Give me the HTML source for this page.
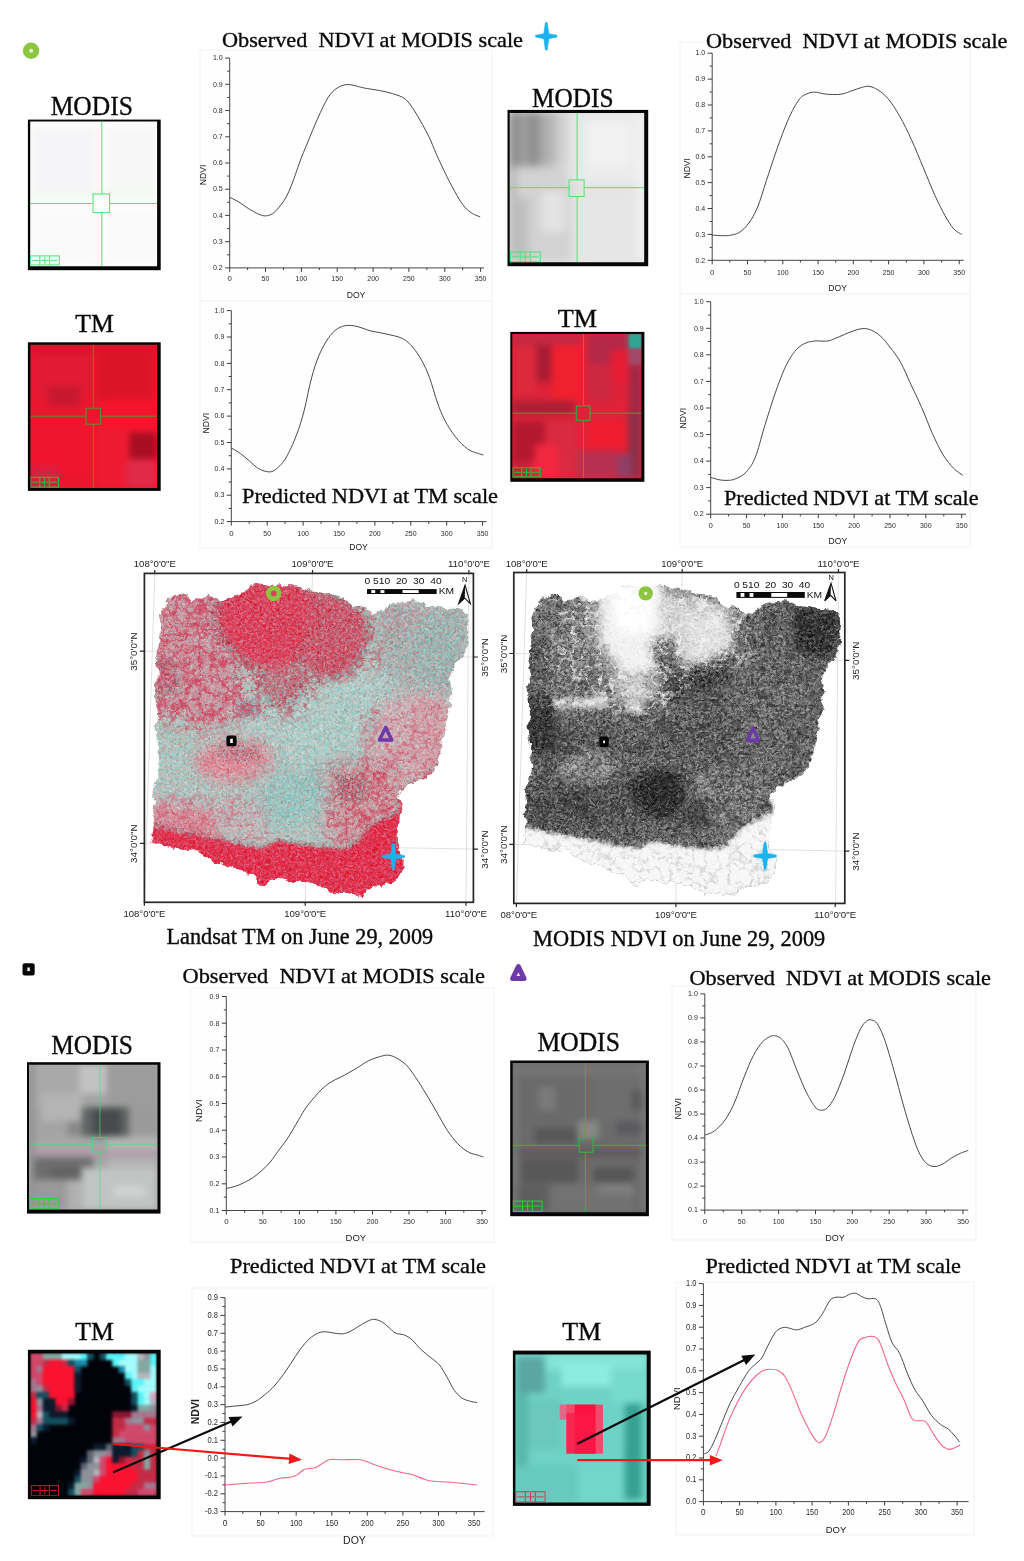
<!DOCTYPE html>
<html lang="en"><head><meta charset="utf-8"><title>NDVI time series at MODIS and TM scale</title>
<style>html,body{margin:0;padding:0;background:#fff}svg{display:block}</style></head><body>
<svg width="1024" height="1561" viewBox="0 0 1024 1561">
<defs><filter id="bl0_6" x="-10%" y="-10%" width="120%" height="120%" color-interpolation-filters="sRGB"><feGaussianBlur stdDeviation="0.6"/></filter>
<filter id="bl1_0" x="-10%" y="-10%" width="120%" height="120%" color-interpolation-filters="sRGB"><feGaussianBlur stdDeviation="1.0"/></filter>
<filter id="bl1_5" x="-10%" y="-10%" width="120%" height="120%" color-interpolation-filters="sRGB"><feGaussianBlur stdDeviation="1.5"/></filter>
<filter id="bl2_0" x="-10%" y="-10%" width="120%" height="120%" color-interpolation-filters="sRGB"><feGaussianBlur stdDeviation="2.0"/></filter>
<filter id="bl3_0" x="-10%" y="-10%" width="120%" height="120%" color-interpolation-filters="sRGB"><feGaussianBlur stdDeviation="3.0"/></filter>
<filter id="bl4_0" x="-10%" y="-10%" width="120%" height="120%" color-interpolation-filters="sRGB"><feGaussianBlur stdDeviation="4.0"/></filter>
<filter id="mtm" x="0" y="0" width="100%" height="100%" color-interpolation-filters="sRGB">
 <feTurbulence type="fractalNoise" baseFrequency="0.42" numOctaves="3" seed="7" result="n"/>
 <feColorMatrix in="n" type="matrix" values="1.5 0 0 0 -0.25  0 1.4 0 0 -0.2  0 1.4 0 0 -0.2  0 0 0 0 1" result="cn"/>
 <feBlend in="cn" in2="SourceGraphic" mode="soft-light" result="b"/>
 <feComposite in="b" in2="SourceGraphic" operator="in"/>
</filter>
<filter id="mmo" x="0" y="0" width="100%" height="100%" color-interpolation-filters="sRGB">
 <feTurbulence type="fractalNoise" baseFrequency="0.42" numOctaves="3" seed="11" result="n"/>
 <feColorMatrix in="n" type="matrix" values="1.6 0 0 0 -0.3  1.6 0 0 0 -0.3  1.6 0 0 0 -0.3  0 0 0 0 1" result="cn"/>
 <feBlend in="cn" in2="SourceGraphic" mode="soft-light" result="b"/>
 <feComposite in="b" in2="SourceGraphic" operator="in"/>
</filter>
<filter id="vein" x="0" y="0" width="100%" height="100%" color-interpolation-filters="sRGB">
 <feTurbulence type="turbulence" baseFrequency="0.075" numOctaves="4" seed="6" result="t"/>
 <feColorMatrix in="t" type="matrix" values="0 0 0 0 0  0 0 0 0 0  0 0 0 0 0  -5 0 0 0 1.28" result="m"/>
 <feComposite in="SourceGraphic" in2="m" operator="in"/>
</filter>
<filter id="vein2" x="0" y="0" width="100%" height="100%" color-interpolation-filters="sRGB">
 <feTurbulence type="turbulence" baseFrequency="0.085" numOctaves="4" seed="13" result="t"/>
 <feColorMatrix in="t" type="matrix" values="0 0 0 0 0  0 0 0 0 0  0 0 0 0 0  0 -5 0 0 1.25" result="m"/>
 <feComposite in="SourceGraphic" in2="m" operator="in"/>
</filter>
<filter id="edge" x="-5%" y="-5%" width="110%" height="110%">
 <feTurbulence type="fractalNoise" baseFrequency="0.16" numOctaves="3" seed="5" result="n"/>
 <feDisplacementMap in="SourceGraphic" in2="n" scale="6" xChannelSelector="R" yChannelSelector="G"/>
</filter>
<filter id="mb4" x="-20%" y="-20%" width="140%" height="140%" color-interpolation-filters="sRGB"><feGaussianBlur stdDeviation="4"/></filter>
<filter id="mb7" x="-30%" y="-30%" width="160%" height="160%" color-interpolation-filters="sRGB"><feGaussianBlur stdDeviation="7"/></filter>
<filter id="mb2" x="-20%" y="-20%" width="140%" height="140%" color-interpolation-filters="sRGB"><feGaussianBlur stdDeviation="2"/></filter>
<filter id="mb1" x="-50%" y="-50%" width="200%" height="200%" color-interpolation-filters="sRGB"><feGaussianBlur stdDeviation="0.8"/></filter>
</defs>
<rect width="1024" height="1561" fill="#fff"/>
<g id="charts"><rect x="200" y="50" width="292" height="498" fill="#fefefe" stroke="#f3f3f3" stroke-width="1"/>
<rect x="680" y="42" width="290" height="505" fill="#fefefe" stroke="#f3f3f3" stroke-width="1"/>
<rect x="191" y="988" width="303" height="254" fill="#fefefe" stroke="#f3f3f3" stroke-width="1"/>
<rect x="672" y="986" width="304" height="254" fill="#fefefe" stroke="#f3f3f3" stroke-width="1"/>
<rect x="192" y="1288" width="301" height="248" fill="#fefefe" stroke="#f3f3f3" stroke-width="1"/>
<rect x="676" y="1282" width="298" height="253" fill="#fefefe" stroke="#f3f3f3" stroke-width="1"/>
<path d="M200 301H492M680 294H970" stroke="#f0f0f0" stroke-width="1"/>
<path d="M229.7 58.1V267.9H484" fill="none" stroke="#3c3c3c" stroke-width="0.95"/>
<path d="M229.7 58.1h-4.5M229.7 71.2h-2.5M229.7 84.3h-4.5M229.7 97.4h-2.5M229.7 110.5h-4.5M229.7 123.7h-2.5M229.7 136.8h-4.5M229.7 149.9h-2.5M229.7 163h-4.5M229.7 176.1h-2.5M229.7 189.2h-4.5M229.7 202.3h-2.5M229.7 215.4h-4.5M229.7 228.6h-2.5M229.7 241.7h-4.5M229.7 254.8h-2.5M229.7 267.9h-4.5M229.7 267.9v4M247.6 267.9v2.2M265.5 267.9v4M283.5 267.9v2.2M301.4 267.9v4M319.3 267.9v2.2M337.2 267.9v4M355.1 267.9v2.2M373.1 267.9v4M391 267.9v2.2M408.9 267.9v4M426.8 267.9v2.2M444.8 267.9v4M462.7 267.9v2.2M480.6 267.9v4" fill="none" stroke="#3c3c3c" stroke-width="1"/>
<g font-family='"Liberation Sans", sans-serif' font-size="7.8" fill="#2c2c2c">
<g text-anchor="end">
<text x="222.7" y="60.3" textLength="9.8" lengthAdjust="spacingAndGlyphs">1.0</text>
<text x="222.7" y="86.5" textLength="9.8" lengthAdjust="spacingAndGlyphs">0.9</text>
<text x="222.7" y="112.8" textLength="9.8" lengthAdjust="spacingAndGlyphs">0.8</text>
<text x="222.7" y="139" textLength="9.8" lengthAdjust="spacingAndGlyphs">0.7</text>
<text x="222.7" y="165.2" textLength="9.8" lengthAdjust="spacingAndGlyphs">0.6</text>
<text x="222.7" y="191.4" textLength="9.8" lengthAdjust="spacingAndGlyphs">0.5</text>
<text x="222.7" y="217.7" textLength="9.8" lengthAdjust="spacingAndGlyphs">0.4</text>
<text x="222.7" y="243.9" textLength="9.8" lengthAdjust="spacingAndGlyphs">0.3</text>
<text x="222.7" y="270.1" textLength="9.8" lengthAdjust="spacingAndGlyphs">0.2</text>
</g><g text-anchor="middle">
<text x="229.7" y="280.7">0</text>
<text x="265.5" y="280.7" textLength="7.8" lengthAdjust="spacingAndGlyphs">50</text>
<text x="301.4" y="280.7" textLength="11.7" lengthAdjust="spacingAndGlyphs">100</text>
<text x="337.2" y="280.7" textLength="11.7" lengthAdjust="spacingAndGlyphs">150</text>
<text x="373.1" y="280.7" textLength="11.7" lengthAdjust="spacingAndGlyphs">200</text>
<text x="408.9" y="280.7" textLength="11.7" lengthAdjust="spacingAndGlyphs">250</text>
<text x="444.8" y="280.7" textLength="11.7" lengthAdjust="spacingAndGlyphs">300</text>
<text x="480.6" y="280.7" textLength="11.7" lengthAdjust="spacingAndGlyphs">350</text>
</g></g>
<text x="356" y="297.8" font-family='"Liberation Sans", sans-serif' font-size="8.6" fill="#222" text-anchor="middle">DOY</text>
<text transform="translate(205.6 175) rotate(-90)" font-family='"Liberation Sans", sans-serif' font-size="8.6" fill="#222" text-anchor="middle">NDVI</text>
<path d="M229.6 197.3C231 198 234.8 199.6 237.9 201.4C241 203.3 244.8 206.3 248.2 208.4C251.6 210.5 255.6 212.8 258.5 214.1C261.4 215.3 263.4 216 265.7 215.9C268.1 215.8 270.5 215 272.7 213.5C274.9 212.1 277 209.7 279.1 207.1C281.3 204.5 283.4 201.9 285.6 198.1C287.7 194.2 289.7 189.9 292 183.9C294.4 177.9 297.2 168.9 299.8 162C302.3 155.1 304.5 150 307.5 142.7C310.5 135.3 314.4 125.7 317.8 118.2C321.2 110.6 324.9 102.6 328.1 97.5C331.3 92.5 334.1 90.1 337.1 88C340.1 85.8 343.4 85.1 346.2 84.6C349 84.2 350.9 84.9 353.9 85.4C356.9 86 359.9 87.1 364.2 88C368.5 88.9 375 89.6 379.7 90.6C384.4 91.5 388.3 92.2 392.6 93.7C396.9 95.1 401.6 96.1 405.5 99.3C409.3 102.6 411.9 106.9 415.8 113C419.6 119.1 425.2 129.3 428.7 136.2C432.1 143.1 433.4 147.6 436.4 154.3C439.4 160.9 443.3 169.3 446.7 176.2C450.1 183 454 190.3 457 195.5C460 200.7 462.2 204.1 464.8 207.1C467.3 210.1 469.9 211.9 472.5 213.5C475.1 215.2 478.9 216.3 480.2 216.9" fill="none" stroke="#4a4a4a" stroke-width="1" stroke-linejoin="round"/>
<path d="M712.2 53.2V260.3H963.6" fill="none" stroke="#3c3c3c" stroke-width="0.95"/>
<path d="M712.2 53.2h-4.5M712.2 66.1h-2.5M712.2 79.1h-4.5M712.2 92h-2.5M712.2 105h-4.5M712.2 117.9h-2.5M712.2 130.9h-4.5M712.2 143.8h-2.5M712.2 156.8h-4.5M712.2 169.7h-2.5M712.2 182.6h-4.5M712.2 195.6h-2.5M712.2 208.5h-4.5M712.2 221.5h-2.5M712.2 234.4h-4.5M712.2 247.4h-2.5M712.2 260.3h-4.5M712.2 260.3v4M729.8 260.3v2.2M747.5 260.3v4M765.1 260.3v2.2M782.8 260.3v4M800.4 260.3v2.2M818.1 260.3v4M835.7 260.3v2.2M853.3 260.3v4M871 260.3v2.2M888.6 260.3v4M906.3 260.3v2.2M923.9 260.3v4M941.6 260.3v2.2M959.2 260.3v4" fill="none" stroke="#3c3c3c" stroke-width="1"/>
<g font-family='"Liberation Sans", sans-serif' font-size="7.8" fill="#2c2c2c">
<g text-anchor="end">
<text x="705.2" y="55.4" textLength="9.8" lengthAdjust="spacingAndGlyphs">1.0</text>
<text x="705.2" y="81.3" textLength="9.8" lengthAdjust="spacingAndGlyphs">0.9</text>
<text x="705.2" y="107.2" textLength="9.8" lengthAdjust="spacingAndGlyphs">0.8</text>
<text x="705.2" y="133.1" textLength="9.8" lengthAdjust="spacingAndGlyphs">0.7</text>
<text x="705.2" y="159" textLength="9.8" lengthAdjust="spacingAndGlyphs">0.6</text>
<text x="705.2" y="184.8" textLength="9.8" lengthAdjust="spacingAndGlyphs">0.5</text>
<text x="705.2" y="210.7" textLength="9.8" lengthAdjust="spacingAndGlyphs">0.4</text>
<text x="705.2" y="236.6" textLength="9.8" lengthAdjust="spacingAndGlyphs">0.3</text>
<text x="705.2" y="262.5" textLength="9.8" lengthAdjust="spacingAndGlyphs">0.2</text>
</g><g text-anchor="middle">
<text x="712.2" y="275">0</text>
<text x="747.5" y="275" textLength="7.8" lengthAdjust="spacingAndGlyphs">50</text>
<text x="782.8" y="275" textLength="11.7" lengthAdjust="spacingAndGlyphs">100</text>
<text x="818.1" y="275" textLength="11.7" lengthAdjust="spacingAndGlyphs">150</text>
<text x="853.3" y="275" textLength="11.7" lengthAdjust="spacingAndGlyphs">200</text>
<text x="888.6" y="275" textLength="11.7" lengthAdjust="spacingAndGlyphs">250</text>
<text x="923.9" y="275" textLength="11.7" lengthAdjust="spacingAndGlyphs">300</text>
<text x="959.2" y="275" textLength="11.7" lengthAdjust="spacingAndGlyphs">350</text>
</g></g>
<text x="837.6" y="290.7" font-family='"Liberation Sans", sans-serif' font-size="8.6" fill="#222" text-anchor="middle">DOY</text>
<text transform="translate(689.5 168.3) rotate(-90)" font-family='"Liberation Sans", sans-serif' font-size="8.6" fill="#222" text-anchor="middle">NDVI</text>
<path d="M712.2 235.1C714.2 235.2 720.5 235.8 723.9 235.7C727.4 235.7 730 235.5 732.7 234.8C735.4 234.2 737.4 233.8 740.1 231.9C742.7 229.9 745.9 227.3 748.8 223.1C751.8 219 754.7 214.1 757.6 207C760.6 199.9 763.3 190.1 766.4 180.6C769.6 171.1 773 160.1 776.7 149.9C780.3 139.6 784.7 127.4 788.4 119.1C792.1 110.8 795.7 104.2 798.7 100.1C801.6 95.9 803.3 95.5 806 94.2C808.7 92.9 811.3 92.1 814.8 92.1C818.2 92.1 822.1 93.9 826.5 94.2C830.9 94.5 836.7 94.8 841.1 94.2C845.5 93.6 849.4 91.5 852.9 90.4C856.3 89.3 859 88.1 861.6 87.5C864.3 86.8 866.3 85.9 869 86.3C871.7 86.7 874.6 87.8 877.8 89.8C880.9 91.9 884.3 94.2 888 98.6C891.7 103 895.8 109.3 899.7 116.2C903.6 123 907.5 131.1 911.4 139.6C915.4 148.2 919.3 158.2 923.2 167.4C927.1 176.7 931.2 187.2 934.9 195.3C938.5 203.3 942 210.2 945.1 215.8C948.3 221.4 951.1 225.8 953.9 229C956.7 232.1 960.5 233.6 961.8 234.5" fill="none" stroke="#4a4a4a" stroke-width="1" stroke-linejoin="round"/>
<path d="M231.3 310.6V521.6H486.5" fill="none" stroke="#3c3c3c" stroke-width="0.95"/>
<path d="M231.3 310.6h-4.5M231.3 323.8h-2.5M231.3 337h-4.5M231.3 350.2h-2.5M231.3 363.4h-4.5M231.3 376.5h-2.5M231.3 389.7h-4.5M231.3 402.9h-2.5M231.3 416.1h-4.5M231.3 429.3h-2.5M231.3 442.5h-4.5M231.3 455.7h-2.5M231.3 468.9h-4.5M231.3 482h-2.5M231.3 495.2h-4.5M231.3 508.4h-2.5M231.3 521.6h-4.5M231.3 521.6v4M249.2 521.6v2.2M267.2 521.6v4M285.1 521.6v2.2M303.1 521.6v4M321.1 521.6v2.2M339 521.6v4M356.9 521.6v2.2M374.9 521.6v4M392.8 521.6v2.2M410.8 521.6v4M428.8 521.6v2.2M446.7 521.6v4M464.6 521.6v2.2M482.6 521.6v4" fill="none" stroke="#3c3c3c" stroke-width="1"/>
<g font-family='"Liberation Sans", sans-serif' font-size="7.8" fill="#2c2c2c">
<g text-anchor="end">
<text x="224.3" y="312.8" textLength="9.8" lengthAdjust="spacingAndGlyphs">1.0</text>
<text x="224.3" y="339.2" textLength="9.8" lengthAdjust="spacingAndGlyphs">0.9</text>
<text x="224.3" y="365.6" textLength="9.8" lengthAdjust="spacingAndGlyphs">0.8</text>
<text x="224.3" y="391.9" textLength="9.8" lengthAdjust="spacingAndGlyphs">0.7</text>
<text x="224.3" y="418.3" textLength="9.8" lengthAdjust="spacingAndGlyphs">0.6</text>
<text x="224.3" y="444.7" textLength="9.8" lengthAdjust="spacingAndGlyphs">0.5</text>
<text x="224.3" y="471.1" textLength="9.8" lengthAdjust="spacingAndGlyphs">0.4</text>
<text x="224.3" y="497.4" textLength="9.8" lengthAdjust="spacingAndGlyphs">0.3</text>
<text x="224.3" y="523.8" textLength="9.8" lengthAdjust="spacingAndGlyphs">0.2</text>
</g><g text-anchor="middle">
<text x="231.3" y="535.5">0</text>
<text x="267.2" y="535.5" textLength="7.8" lengthAdjust="spacingAndGlyphs">50</text>
<text x="303.1" y="535.5" textLength="11.7" lengthAdjust="spacingAndGlyphs">100</text>
<text x="339" y="535.5" textLength="11.7" lengthAdjust="spacingAndGlyphs">150</text>
<text x="374.9" y="535.5" textLength="11.7" lengthAdjust="spacingAndGlyphs">200</text>
<text x="410.8" y="535.5" textLength="11.7" lengthAdjust="spacingAndGlyphs">250</text>
<text x="446.7" y="535.5" textLength="11.7" lengthAdjust="spacingAndGlyphs">300</text>
<text x="482.6" y="535.5" textLength="11.7" lengthAdjust="spacingAndGlyphs">350</text>
</g></g>
<text x="358.5" y="550.4" font-family='"Liberation Sans", sans-serif' font-size="8.6" fill="#222" text-anchor="middle">DOY</text>
<text transform="translate(208.7 423.2) rotate(-90)" font-family='"Liberation Sans", sans-serif' font-size="8.6" fill="#222" text-anchor="middle">NDVI</text>
<path d="M231.3 448C232.8 448.9 237.4 451.3 240.4 453.5C243.4 455.6 246.5 458.5 249.5 461C252.5 463.6 255.3 466.8 258.6 468.6C261.9 470.4 266.1 471.9 269.2 471.9C272.2 471.9 274 470.9 276.7 468.6C279.5 466.3 282.5 463.6 285.8 458C289.1 452.5 293.4 443.1 296.4 435.3C299.4 427.5 301.5 420.7 304 411.1C306.5 401.5 309 387.1 311.6 377.8C314.1 368.5 316.3 361.6 319.1 355.1C321.9 348.5 325.2 342.8 328.2 338.4C331.2 334 334 330.9 337.3 328.8C340.6 326.6 344.4 325.7 347.9 325.4C351.4 325.1 354.7 326 358.5 326.9C362.3 327.8 366 329.7 370.6 330.9C375.1 332 380.4 332.6 385.7 333.9C391 335.2 397.8 336.2 402.4 338.4C406.9 340.7 409.7 343.7 413 347.5C416.3 351.3 419.3 356.1 422.1 361.1C424.8 366.2 427.1 371 429.6 377.8C432.1 384.6 434.7 394.9 437.2 402C439.7 409.1 441.7 414.4 444.8 420.2C447.8 426 451.6 432 455.4 436.8C459.1 441.6 463.9 446.3 467.5 448.9C471 451.6 473.9 451.9 476.5 452.9C479.2 453.9 482.3 454.6 483.5 455" fill="none" stroke="#4a4a4a" stroke-width="1" stroke-linejoin="round"/>
<path d="M710.7 301.7V514.2H966" fill="none" stroke="#3c3c3c" stroke-width="0.95"/>
<path d="M710.7 301.7h-4.5M710.7 315h-2.5M710.7 328.3h-4.5M710.7 341.5h-2.5M710.7 354.8h-4.5M710.7 368.1h-2.5M710.7 381.4h-4.5M710.7 394.7h-2.5M710.7 408h-4.5M710.7 421.2h-2.5M710.7 434.5h-4.5M710.7 447.8h-2.5M710.7 461.1h-4.5M710.7 474.4h-2.5M710.7 487.6h-4.5M710.7 500.9h-2.5M710.7 514.2h-4.5M710.7 514.2v4M728.6 514.2v2.2M746.6 514.2v4M764.5 514.2v2.2M782.4 514.2v4M800.3 514.2v2.2M818.3 514.2v4M836.2 514.2v2.2M854.1 514.2v4M872.1 514.2v2.2M890 514.2v4M907.9 514.2v2.2M925.8 514.2v4M943.8 514.2v2.2M961.7 514.2v4" fill="none" stroke="#3c3c3c" stroke-width="1"/>
<g font-family='"Liberation Sans", sans-serif' font-size="7.8" fill="#2c2c2c">
<g text-anchor="end">
<text x="703.7" y="303.9" textLength="9.8" lengthAdjust="spacingAndGlyphs">1.0</text>
<text x="703.7" y="330.5" textLength="9.8" lengthAdjust="spacingAndGlyphs">0.9</text>
<text x="703.7" y="357" textLength="9.8" lengthAdjust="spacingAndGlyphs">0.8</text>
<text x="703.7" y="383.6" textLength="9.8" lengthAdjust="spacingAndGlyphs">0.7</text>
<text x="703.7" y="410.2" textLength="9.8" lengthAdjust="spacingAndGlyphs">0.6</text>
<text x="703.7" y="436.7" textLength="9.8" lengthAdjust="spacingAndGlyphs">0.5</text>
<text x="703.7" y="463.3" textLength="9.8" lengthAdjust="spacingAndGlyphs">0.4</text>
<text x="703.7" y="489.8" textLength="9.8" lengthAdjust="spacingAndGlyphs">0.3</text>
<text x="703.7" y="516.4" textLength="9.8" lengthAdjust="spacingAndGlyphs">0.2</text>
</g><g text-anchor="middle">
<text x="710.7" y="528.4">0</text>
<text x="746.6" y="528.4" textLength="7.8" lengthAdjust="spacingAndGlyphs">50</text>
<text x="782.4" y="528.4" textLength="11.7" lengthAdjust="spacingAndGlyphs">100</text>
<text x="818.3" y="528.4" textLength="11.7" lengthAdjust="spacingAndGlyphs">150</text>
<text x="854.1" y="528.4" textLength="11.7" lengthAdjust="spacingAndGlyphs">200</text>
<text x="890" y="528.4" textLength="11.7" lengthAdjust="spacingAndGlyphs">250</text>
<text x="925.8" y="528.4" textLength="11.7" lengthAdjust="spacingAndGlyphs">300</text>
<text x="961.7" y="528.4" textLength="11.7" lengthAdjust="spacingAndGlyphs">350</text>
</g></g>
<text x="837.9" y="543.9" font-family='"Liberation Sans", sans-serif' font-size="8.6" fill="#222" text-anchor="middle">DOY</text>
<text transform="translate(685.7 418.2) rotate(-90)" font-family='"Liberation Sans", sans-serif' font-size="8.6" fill="#222" text-anchor="middle">NDVI</text>
<path d="M710.7 477.5C712.3 477.9 717.3 479.5 720.4 480C723.5 480.4 726.7 480.6 729.5 480.3C732.3 480 734.3 479.5 737.1 478.1C739.8 476.8 743.1 475.5 746.1 472.1C749.2 468.7 752.2 465 755.2 457.6C758.3 450.1 761 437.9 764.3 427.3C767.6 416.7 771.4 404.1 774.9 394C778.4 383.9 782.2 373.8 785.5 366.7C788.8 359.7 791.6 355.4 794.6 351.6C797.6 347.8 800.4 345.8 803.7 344C806.9 342.3 810.2 341.5 814.3 341C818.3 340.5 823.8 341.7 827.9 341C831.9 340.4 834.7 338.6 838.5 337.1C842.3 335.6 846.6 333.3 850.6 331.9C854.6 330.5 859.2 328.8 862.7 328.6C866.2 328.3 868.8 329.1 871.8 330.4C874.8 331.7 877.8 333.7 880.9 336.5C883.9 339.2 886.7 342.8 889.9 347.1C893.2 351.3 897 355.9 900.5 362.2C904.1 368.5 907.6 377.3 911.1 384.9C914.7 392.5 918.2 399.5 921.7 407.6C925.3 415.7 928.8 425.5 932.3 433.3C935.9 441.2 939.4 448.7 942.9 454.5C946.5 460.3 950.2 464.7 953.5 468.2C956.8 471.6 961.1 474 962.6 475.1" fill="none" stroke="#4a4a4a" stroke-width="1" stroke-linejoin="round"/>
<path d="M226.3 996.5V1210.5H486" fill="none" stroke="#3c3c3c" stroke-width="0.95"/>
<path d="M226.3 996.5h-4.5M226.3 1009.9h-2.5M226.3 1023.2h-4.5M226.3 1036.6h-2.5M226.3 1050h-4.5M226.3 1063.4h-2.5M226.3 1076.8h-4.5M226.3 1090.1h-2.5M226.3 1103.5h-4.5M226.3 1116.9h-2.5M226.3 1130.2h-4.5M226.3 1143.6h-2.5M226.3 1157h-4.5M226.3 1170.4h-2.5M226.3 1183.8h-4.5M226.3 1197.1h-2.5M226.3 1210.5h-4.5M226.3 1210.5v4M244.6 1210.5v2.2M262.8 1210.5v4M281.1 1210.5v2.2M299.4 1210.5v4M317.7 1210.5v2.2M335.9 1210.5v4M354.2 1210.5v2.2M372.5 1210.5v4M390.7 1210.5v2.2M409 1210.5v4M427.3 1210.5v2.2M445.6 1210.5v4M463.8 1210.5v2.2M482.1 1210.5v4" fill="none" stroke="#3c3c3c" stroke-width="1"/>
<g font-family='"Liberation Sans", sans-serif' font-size="7.8" fill="#2c2c2c">
<g text-anchor="end">
<text x="219.3" y="998.7" textLength="9.8" lengthAdjust="spacingAndGlyphs">0.9</text>
<text x="219.3" y="1025.5" textLength="9.8" lengthAdjust="spacingAndGlyphs">0.8</text>
<text x="219.3" y="1052.2" textLength="9.8" lengthAdjust="spacingAndGlyphs">0.7</text>
<text x="219.3" y="1079" textLength="9.8" lengthAdjust="spacingAndGlyphs">0.6</text>
<text x="219.3" y="1105.7" textLength="9.8" lengthAdjust="spacingAndGlyphs">0.5</text>
<text x="219.3" y="1132.5" textLength="9.8" lengthAdjust="spacingAndGlyphs">0.4</text>
<text x="219.3" y="1159.2" textLength="9.8" lengthAdjust="spacingAndGlyphs">0.3</text>
<text x="219.3" y="1186" textLength="9.8" lengthAdjust="spacingAndGlyphs">0.2</text>
<text x="219.3" y="1212.7" textLength="9.8" lengthAdjust="spacingAndGlyphs">0.1</text>
</g><g text-anchor="middle">
<text x="226.3" y="1224.4">0</text>
<text x="262.8" y="1224.4" textLength="7.8" lengthAdjust="spacingAndGlyphs">50</text>
<text x="299.4" y="1224.4" textLength="11.7" lengthAdjust="spacingAndGlyphs">100</text>
<text x="335.9" y="1224.4" textLength="11.7" lengthAdjust="spacingAndGlyphs">150</text>
<text x="372.5" y="1224.4" textLength="11.7" lengthAdjust="spacingAndGlyphs">200</text>
<text x="409" y="1224.4" textLength="11.7" lengthAdjust="spacingAndGlyphs">250</text>
<text x="445.6" y="1224.4" textLength="11.7" lengthAdjust="spacingAndGlyphs">300</text>
<text x="482.1" y="1224.4" textLength="11.7" lengthAdjust="spacingAndGlyphs">350</text>
</g></g>
<text x="355.9" y="1241.2" font-family='"Liberation Sans", sans-serif' font-size="9.5" fill="#222" text-anchor="middle">DOY</text>
<text transform="translate(201.9 1110.6) rotate(-90)" font-family='"Liberation Sans", sans-serif' font-size="9.5" fill="#222" text-anchor="middle">NDVI</text>
<path d="M226.3 1188.4C227.8 1188.1 232.4 1187.3 235.4 1186.3C238.4 1185.3 241.5 1183.9 244.5 1182.4C247.5 1180.9 250.5 1179.4 253.6 1177.2C256.6 1175.1 259.9 1172.2 262.7 1169.7C265.4 1167.1 267.7 1165.1 270.2 1162.1C272.7 1159.1 275 1155.3 277.8 1151.5C280.6 1147.7 283.8 1143.9 286.9 1139.4C289.9 1134.9 292.9 1129.3 296 1124.3C299 1119.2 302 1113.6 305 1109.1C308.1 1104.7 311.1 1101.1 314.1 1097.6C317.1 1094.1 320.2 1090.7 323.2 1087.9C326.2 1085.2 328.8 1083.4 332.3 1081.3C335.8 1079.2 340.4 1077.4 344.4 1075.2C348.4 1073 352.5 1070.7 356.5 1068.3C360.5 1065.8 364.6 1062.7 368.6 1060.7C372.7 1058.7 377.4 1057.4 380.7 1056.4C384 1055.5 385.8 1055 388.3 1055.2C390.8 1055.4 392.8 1056 395.9 1057.7C398.9 1059.3 403.2 1061.9 406.5 1065.2C409.7 1068.5 412.3 1072.5 415.5 1077.3C418.8 1082.1 422.6 1088.2 426.1 1094C429.7 1099.8 433.2 1106.1 436.7 1112.1C440.3 1118.2 443.8 1125 447.3 1130.3C450.9 1135.6 454.4 1140.3 457.9 1143.9C461.5 1147.6 465.2 1150.2 468.5 1152.1C471.8 1154 475.1 1154.3 477.6 1155.1C480.1 1155.9 482.6 1156.7 483.7 1157" fill="none" stroke="#4a4a4a" stroke-width="1" stroke-linejoin="round"/>
<path d="M704.8 993.9V1210.1H968.2" fill="none" stroke="#3c3c3c" stroke-width="0.95"/>
<path d="M704.8 993.9h-4.5M704.8 1005.9h-2.5M704.8 1017.9h-4.5M704.8 1029.9h-2.5M704.8 1041.9h-4.5M704.8 1054h-2.5M704.8 1066h-4.5M704.8 1078h-2.5M704.8 1090h-4.5M704.8 1102h-2.5M704.8 1114h-4.5M704.8 1126h-2.5M704.8 1138h-4.5M704.8 1150h-2.5M704.8 1162.1h-4.5M704.8 1174.1h-2.5M704.8 1186.1h-4.5M704.8 1198.1h-2.5M704.8 1210.1h-4.5M704.8 1210.1v4M723.2 1210.1v2.2M741.7 1210.1v4M760.1 1210.1v2.2M778.6 1210.1v4M797 1210.1v2.2M815.5 1210.1v4M833.9 1210.1v2.2M852.3 1210.1v4M870.8 1210.1v2.2M889.2 1210.1v4M907.7 1210.1v2.2M926.1 1210.1v4M944.6 1210.1v2.2M963 1210.1v4" fill="none" stroke="#3c3c3c" stroke-width="1"/>
<g font-family='"Liberation Sans", sans-serif' font-size="7.8" fill="#2c2c2c">
<g text-anchor="end">
<text x="697.8" y="996.1" textLength="9.8" lengthAdjust="spacingAndGlyphs">1.0</text>
<text x="697.8" y="1020.1" textLength="9.8" lengthAdjust="spacingAndGlyphs">0.9</text>
<text x="697.8" y="1044.2" textLength="9.8" lengthAdjust="spacingAndGlyphs">0.8</text>
<text x="697.8" y="1068.2" textLength="9.8" lengthAdjust="spacingAndGlyphs">0.7</text>
<text x="697.8" y="1092.2" textLength="9.8" lengthAdjust="spacingAndGlyphs">0.6</text>
<text x="697.8" y="1116.2" textLength="9.8" lengthAdjust="spacingAndGlyphs">0.5</text>
<text x="697.8" y="1140.2" textLength="9.8" lengthAdjust="spacingAndGlyphs">0.4</text>
<text x="697.8" y="1164.3" textLength="9.8" lengthAdjust="spacingAndGlyphs">0.3</text>
<text x="697.8" y="1188.3" textLength="9.8" lengthAdjust="spacingAndGlyphs">0.2</text>
<text x="697.8" y="1212.3" textLength="9.8" lengthAdjust="spacingAndGlyphs">0.1</text>
</g><g text-anchor="middle">
<text x="704.8" y="1224">0</text>
<text x="741.7" y="1224" textLength="7.8" lengthAdjust="spacingAndGlyphs">50</text>
<text x="778.6" y="1224" textLength="11.7" lengthAdjust="spacingAndGlyphs">100</text>
<text x="815.5" y="1224" textLength="11.7" lengthAdjust="spacingAndGlyphs">150</text>
<text x="852.3" y="1224" textLength="11.7" lengthAdjust="spacingAndGlyphs">200</text>
<text x="889.2" y="1224" textLength="11.7" lengthAdjust="spacingAndGlyphs">250</text>
<text x="926.1" y="1224" textLength="11.7" lengthAdjust="spacingAndGlyphs">300</text>
<text x="963" y="1224" textLength="11.7" lengthAdjust="spacingAndGlyphs">350</text>
</g></g>
<text x="835" y="1241.2" font-family='"Liberation Sans", sans-serif' font-size="9" fill="#222" text-anchor="middle">DOY</text>
<text transform="translate(680.8 1108.7) rotate(-90)" font-family='"Liberation Sans", sans-serif' font-size="9" fill="#222" text-anchor="middle">NDVI</text>
<path d="M704.8 1135C706.1 1134.5 709.9 1133.8 712.4 1132.3C714.9 1130.8 717.4 1128.6 720 1125.9C722.5 1123.2 725 1120.4 727.5 1116.2C730 1112.1 732.3 1107.7 735.1 1101.1C737.9 1094.5 741.1 1084.4 744.2 1076.9C747.2 1069.3 750.2 1061.5 753.3 1055.7C756.3 1049.9 759.6 1045.2 762.3 1042.1C765.1 1038.9 767.9 1037.7 769.9 1036.6C771.9 1035.6 772.7 1035.5 774.4 1035.7C776.2 1036 778.2 1036.1 780.5 1038.1C782.8 1040.2 785.3 1042.7 788.1 1048.1C790.8 1053.6 794.1 1063.5 797.1 1070.8C800.2 1078.1 803.2 1086 806.2 1092C809.3 1098.1 812.8 1104.1 815.3 1107.1C817.8 1110.2 819.4 1110.1 821.4 1110.2C823.4 1110.3 825.2 1110 827.4 1107.8C829.7 1105.5 832.2 1102.2 835 1096.6C837.8 1090.9 841 1082.2 844.1 1073.8C847.1 1065.5 850.4 1054.2 853.2 1046.6C855.9 1039 858.5 1032.7 860.7 1028.4C863 1024.1 865 1022.3 866.8 1020.9C868.5 1019.5 869.6 1019.5 871.3 1020C873.1 1020.5 875.1 1020.5 877.4 1023.9C879.6 1027.3 882.2 1032.7 884.9 1040.5C887.7 1048.4 891 1060.2 894 1070.8C897.1 1081.4 900.1 1093.5 903.1 1104.1C906.1 1114.7 909.4 1126.1 912.2 1134.4C915 1142.7 917.2 1149.1 919.8 1154.1C922.3 1159 924.8 1162 927.3 1164.1C929.8 1166.1 932.4 1166.5 934.9 1166.5C937.4 1166.5 939.7 1165.5 942.5 1164.1C945.2 1162.7 948.5 1159.8 951.5 1158C954.6 1156.2 957.9 1154.4 960.6 1153.2C963.4 1151.9 966.9 1150.9 968.2 1150.4" fill="none" stroke="#4a4a4a" stroke-width="1" stroke-linejoin="round"/>
<path d="M225 1297.6V1511.6H484.7" fill="none" stroke="#3c3c3c" stroke-width="0.95"/>
<path d="M225 1297.6h-4.5M225 1306.5h-2.5M225 1315.4h-4.5M225 1324.3h-2.5M225 1333.3h-4.5M225 1342.2h-2.5M225 1351.1h-4.5M225 1360h-2.5M225 1368.9h-4.5M225 1377.8h-2.5M225 1386.8h-4.5M225 1395.7h-2.5M225 1404.6h-4.5M225 1413.5h-2.5M225 1422.4h-4.5M225 1431.3h-2.5M225 1440.3h-4.5M225 1449.2h-2.5M225 1458.1h-4.5M225 1467h-2.5M225 1475.9h-4.5M225 1484.8h-2.5M225 1493.8h-4.5M225 1502.7h-2.5M225 1511.6h-4.5M225 1511.6v4M242.8 1511.6v2.2M260.6 1511.6v4M278.4 1511.6v2.2M296.2 1511.6v4M314 1511.6v2.2M331.8 1511.6v4M349.6 1511.6v2.2M367.3 1511.6v4M385.1 1511.6v2.2M402.9 1511.6v4M420.7 1511.6v2.2M438.5 1511.6v4M456.3 1511.6v2.2M474.1 1511.6v4" fill="none" stroke="#3c3c3c" stroke-width="1"/>
<g font-family='"Liberation Sans", sans-serif' font-size="8.4" fill="#2c2c2c">
<g text-anchor="end">
<text x="218" y="1300" textLength="10.5" lengthAdjust="spacingAndGlyphs">0.9</text>
<text x="218" y="1317.9" textLength="10.5" lengthAdjust="spacingAndGlyphs">0.8</text>
<text x="218" y="1335.7" textLength="10.5" lengthAdjust="spacingAndGlyphs">0.7</text>
<text x="218" y="1353.5" textLength="10.5" lengthAdjust="spacingAndGlyphs">0.6</text>
<text x="218" y="1371.4" textLength="10.5" lengthAdjust="spacingAndGlyphs">0.5</text>
<text x="218" y="1389.2" textLength="10.5" lengthAdjust="spacingAndGlyphs">0.4</text>
<text x="218" y="1407" textLength="10.5" lengthAdjust="spacingAndGlyphs">0.3</text>
<text x="218" y="1424.9" textLength="10.5" lengthAdjust="spacingAndGlyphs">0.2</text>
<text x="218" y="1442.7" textLength="10.5" lengthAdjust="spacingAndGlyphs">0.1</text>
<text x="218" y="1460.5" textLength="10.5" lengthAdjust="spacingAndGlyphs">0.0</text>
<text x="218" y="1478.4" textLength="13" lengthAdjust="spacingAndGlyphs">-0.1</text>
<text x="218" y="1496.2" textLength="13" lengthAdjust="spacingAndGlyphs">-0.2</text>
<text x="218" y="1514" textLength="13" lengthAdjust="spacingAndGlyphs">-0.3</text>
</g><g text-anchor="middle">
<text x="225" y="1526">0</text>
<text x="260.6" y="1526" textLength="8.4" lengthAdjust="spacingAndGlyphs">50</text>
<text x="296.2" y="1526" textLength="12.6" lengthAdjust="spacingAndGlyphs">100</text>
<text x="331.8" y="1526" textLength="12.6" lengthAdjust="spacingAndGlyphs">150</text>
<text x="367.3" y="1526" textLength="12.6" lengthAdjust="spacingAndGlyphs">200</text>
<text x="402.9" y="1526" textLength="12.6" lengthAdjust="spacingAndGlyphs">250</text>
<text x="438.5" y="1526" textLength="12.6" lengthAdjust="spacingAndGlyphs">300</text>
<text x="474.1" y="1526" textLength="12.6" lengthAdjust="spacingAndGlyphs">350</text>
</g></g>
<text x="354.5" y="1543.5" font-family='"Liberation Sans", sans-serif' font-size="10.5" fill="#222" text-anchor="middle">DOY</text>
<text transform="translate(199.4 1411.7) rotate(-90)" font-family='"Liberation Sans", sans-serif' font-size="10.5" fill="#222" text-anchor="middle" font-weight="bold">NDVI</text>
<path d="M225 1407.1C226.9 1406.9 232.8 1406.3 236.5 1405.9C240.1 1405.5 243.8 1405.5 247.1 1404.7C250.3 1403.9 253.1 1402.8 256.1 1401.1C259.2 1399.4 262.2 1397 265.2 1394.4C268.3 1391.9 271.3 1389.3 274.3 1386C277.3 1382.6 280.6 1378.2 283.4 1374.5C286.2 1370.7 288.2 1367.4 291 1363.3C293.7 1359.1 297 1353.7 300 1349.6C303.1 1345.6 306.1 1341.8 309.1 1339C312.1 1336.3 315.4 1334.2 318.2 1333C321 1331.8 323.2 1331.8 325.8 1331.8C328.3 1331.8 330.6 1332.6 333.3 1333C336.1 1333.3 339.6 1334.1 342.4 1333.9C345.2 1333.6 347.2 1332.8 350 1331.5C352.8 1330.2 356 1327.8 359.1 1326C362.1 1324.3 365.6 1322 368.2 1320.9C370.7 1319.8 371.9 1319.2 374.2 1319.4C376.5 1319.5 379.3 1320.4 381.8 1321.8C384.3 1323.2 387.1 1326 389.3 1327.8C391.6 1329.7 392.9 1331.8 395.4 1333C397.9 1334.2 401.7 1333.9 404.5 1335.1C407.3 1336.3 409.3 1337.5 412.1 1339.9C414.8 1342.4 418.1 1346.8 421.1 1349.6C424.2 1352.5 427.2 1354.7 430.2 1357.2C433.2 1359.7 436.5 1361.5 439.3 1364.8C442.1 1368 444.3 1372.6 446.9 1376.9C449.4 1381.2 451.9 1387 454.4 1390.5C457 1394 459.5 1396.3 462 1398.1C464.5 1399.8 467 1400.3 469.6 1401.1C472.1 1401.9 475.9 1402.4 477.1 1402.6" fill="none" stroke="#4a4a4a" stroke-width="1" stroke-linejoin="round"/>
<path d="M225 1485C228.4 1484.7 238.8 1483.9 245.5 1483.4C252.3 1483 260.7 1482.7 265.2 1482.2C269.8 1481.7 270.3 1481.1 272.8 1480.4C275.3 1479.8 277.1 1478.9 280.4 1478.3C283.6 1477.7 289.4 1477.5 292.5 1476.8C295.5 1476 296.5 1475 298.5 1473.8C300.5 1472.5 301.8 1470.2 304.6 1469.2C307.4 1468.2 312.1 1468.7 315.2 1467.7C318.2 1466.7 320.2 1464.5 322.7 1463.2C325.3 1461.8 327 1460.1 330.3 1459.5C333.6 1459 337.6 1459.8 342.4 1459.8C347.2 1459.8 355 1459.2 359.1 1459.5C363.1 1459.8 363.4 1460.5 366.6 1461.6C369.9 1462.8 374.2 1464.7 378.8 1466.2C383.3 1467.7 388.3 1469.3 393.9 1470.7C399.4 1472.1 407 1473.2 412.1 1474.7C417.1 1476.1 420.6 1478.1 424.2 1479.2C427.7 1480.3 428.7 1480.8 433.2 1481.3C437.8 1481.8 444.1 1481.6 451.4 1482.2C458.7 1482.8 472.9 1484.5 477.1 1485" fill="none" stroke="#f2688a" stroke-width="1.1" stroke-linejoin="round"/>
<path d="M703.4 1283.6V1501.6H968.6" fill="none" stroke="#3c3c3c" stroke-width="0.95"/>
<path d="M703.4 1283.6h-4.5M703.4 1294.5h-2.5M703.4 1305.4h-4.5M703.4 1316.3h-2.5M703.4 1327.2h-4.5M703.4 1338.1h-2.5M703.4 1349h-4.5M703.4 1359.9h-2.5M703.4 1370.8h-4.5M703.4 1381.7h-2.5M703.4 1392.6h-4.5M703.4 1403.5h-2.5M703.4 1414.4h-4.5M703.4 1425.3h-2.5M703.4 1436.2h-4.5M703.4 1447.1h-2.5M703.4 1458h-4.5M703.4 1468.9h-2.5M703.4 1479.8h-4.5M703.4 1490.7h-2.5M703.4 1501.6h-4.5M703.4 1501.6v4M721.5 1501.6v2.2M739.6 1501.6v4M757.8 1501.6v2.2M775.9 1501.6v4M794 1501.6v2.2M812.1 1501.6v4M830.2 1501.6v2.2M848.4 1501.6v4M866.5 1501.6v2.2M884.6 1501.6v4M902.7 1501.6v2.2M920.9 1501.6v4M939 1501.6v2.2M957.1 1501.6v4" fill="none" stroke="#3c3c3c" stroke-width="1"/>
<g font-family='"Liberation Sans", sans-serif' font-size="8.2" fill="#2c2c2c">
<g text-anchor="end">
<text x="696.4" y="1286" textLength="10.3" lengthAdjust="spacingAndGlyphs">1.0</text>
<text x="696.4" y="1307.8" textLength="10.3" lengthAdjust="spacingAndGlyphs">0.9</text>
<text x="696.4" y="1329.6" textLength="10.3" lengthAdjust="spacingAndGlyphs">0.8</text>
<text x="696.4" y="1351.4" textLength="10.3" lengthAdjust="spacingAndGlyphs">0.7</text>
<text x="696.4" y="1373.2" textLength="10.3" lengthAdjust="spacingAndGlyphs">0.6</text>
<text x="696.4" y="1395" textLength="10.3" lengthAdjust="spacingAndGlyphs">0.5</text>
<text x="696.4" y="1416.8" textLength="10.3" lengthAdjust="spacingAndGlyphs">0.4</text>
<text x="696.4" y="1438.6" textLength="10.3" lengthAdjust="spacingAndGlyphs">0.3</text>
<text x="696.4" y="1460.4" textLength="10.3" lengthAdjust="spacingAndGlyphs">0.2</text>
<text x="696.4" y="1482.2" textLength="10.3" lengthAdjust="spacingAndGlyphs">0.1</text>
<text x="696.4" y="1504" textLength="10.3" lengthAdjust="spacingAndGlyphs">0.0</text>
</g><g text-anchor="middle">
<text x="703.4" y="1515.2">0</text>
<text x="739.6" y="1515.2" textLength="8.2" lengthAdjust="spacingAndGlyphs">50</text>
<text x="775.9" y="1515.2" textLength="12.3" lengthAdjust="spacingAndGlyphs">100</text>
<text x="812.1" y="1515.2" textLength="12.3" lengthAdjust="spacingAndGlyphs">150</text>
<text x="848.4" y="1515.2" textLength="12.3" lengthAdjust="spacingAndGlyphs">200</text>
<text x="884.6" y="1515.2" textLength="12.3" lengthAdjust="spacingAndGlyphs">250</text>
<text x="920.9" y="1515.2" textLength="12.3" lengthAdjust="spacingAndGlyphs">300</text>
<text x="957.1" y="1515.2" textLength="12.3" lengthAdjust="spacingAndGlyphs">350</text>
</g></g>
<text x="836" y="1532.8" font-family='"Liberation Sans", sans-serif' font-size="9.5" fill="#222" text-anchor="middle">DOY</text>
<text transform="translate(679.6 1398.7) rotate(-90)" font-family='"Liberation Sans", sans-serif' font-size="9.5" fill="#222" text-anchor="middle">NDVI</text>
<path d="M703.4 1454.1C704.4 1453.6 707 1453.5 708.9 1451C710.8 1448.6 712.7 1444.5 715 1439.5C717.2 1434.6 720 1427.4 722.5 1421.4C725 1415.3 727.3 1409 730.1 1403.2C732.9 1397.4 736.1 1391.9 739.2 1386.6C742.2 1381.3 745.5 1375.2 748.3 1371.4C751 1367.6 753.6 1366.1 755.8 1363.8C758.1 1361.6 759.9 1360.8 761.9 1357.8C763.9 1354.8 765.7 1350 767.9 1345.7C770.2 1341.4 773 1335.1 775.5 1332.1C778 1329 780.8 1328.2 783.1 1327.5C785.3 1326.9 786.9 1327.7 789.1 1328.1C791.4 1328.5 793.9 1330.1 796.7 1329.9C799.5 1329.7 802.7 1328.1 805.8 1326.9C808.8 1325.8 812.1 1325.1 814.9 1323C817.6 1320.8 819.9 1317.7 822.4 1313.9C824.9 1310.1 827.7 1303 830 1300.3C832.3 1297.5 833.8 1297.8 836 1297.2C838.3 1296.7 841.3 1297.8 843.6 1297.2C845.9 1296.7 847.7 1294.9 849.7 1294.2C851.7 1293.6 853.7 1292.9 855.7 1293.3C857.7 1293.7 859.8 1295.7 861.8 1296.6C863.8 1297.5 865.6 1298.4 867.8 1298.8C870.1 1299.1 873.4 1297.8 875.4 1298.8C877.4 1299.8 878.2 1300.5 879.9 1304.8C881.7 1309.1 884 1318.2 886 1324.5C888 1330.8 889.8 1337.9 892.1 1342.7C894.3 1347.5 897.1 1348.2 899.6 1353.3C902.1 1358.3 904.7 1366.9 907.2 1372.9C909.7 1379 912.2 1385 914.8 1389.6C917.3 1394.1 919.6 1395.9 922.3 1400.2C925.1 1404.5 928.4 1411.3 931.4 1415.3C934.4 1419.4 937.7 1422.1 940.5 1424.4C943.3 1426.7 945.8 1427.2 948.1 1428.9C950.3 1430.7 952.2 1432.8 954.1 1435C956 1437.2 958.7 1440.8 959.6 1442" fill="none" stroke="#4a4a4a" stroke-width="1" stroke-linejoin="round"/>
<path d="M715.9 1456.2C716.7 1453.9 718.9 1448.4 721 1442.6C723.1 1436.8 725.8 1428.2 728.6 1421.4C731.3 1414.6 734.6 1407.5 737.7 1401.7C740.7 1395.9 743.7 1390.8 746.7 1386.6C749.8 1382.3 753 1378.6 755.8 1376C758.6 1373.3 760.9 1371.6 763.4 1370.5C765.9 1369.4 768.4 1369.2 771 1369.3C773.5 1369.3 776.3 1369.7 778.5 1370.8C780.8 1371.9 782.3 1372.6 784.6 1376C786.9 1379.3 789.4 1384.8 792.1 1391.1C794.9 1397.4 798.2 1407 801.2 1413.8C804.3 1420.6 807.8 1427.4 810.3 1432C812.8 1436.5 814.8 1439.3 816.4 1441C818 1442.8 818.5 1443.3 820 1442.6C821.5 1441.8 823.3 1441 825.5 1436.5C827.6 1432 830.2 1423.9 833 1415.3C835.8 1406.7 839.1 1394.6 842.1 1385C845.1 1375.5 848.4 1365.1 851.2 1357.8C854 1350.5 856.5 1344.5 858.8 1341.1C861 1337.8 862.3 1338.3 864.8 1337.5C867.3 1336.8 871.4 1335.7 873.9 1336.6C876.4 1337.5 877.7 1338.1 879.9 1342.7C882.2 1347.2 885 1357.3 887.5 1363.8C890 1370.4 892.3 1376 895.1 1382C897.9 1388.1 901.4 1394.1 904.2 1400.2C906.9 1406.2 909.5 1414.9 911.7 1418.3C914 1421.8 915.5 1420.3 917.8 1420.8C920.1 1421.3 923.1 1419.8 925.4 1421.4C927.6 1423 928.9 1426.7 931.4 1430.5C933.9 1434.2 937.7 1440.9 940.5 1444.1C943.3 1447.2 945.8 1448.6 948.1 1449.2C950.3 1449.9 952.1 1448.7 954.1 1448C956.1 1447.3 959.2 1445.5 960.2 1445" fill="none" stroke="#f2688a" stroke-width="1.1" stroke-linejoin="round"/></g>
<g id="thumbs"><rect x="27.9" y="119.6" width="132.8" height="150.6" fill="#060606"/>
<clipPath id="tc1"><rect x="30.2" y="121.6" width="126.9" height="144.6"/></clipPath>
<g clip-path="url(#tc1)">
<g filter="url(#bl3_0)">
<rect x="18.2" y="109.6" width="150.9" height="168.6" fill="#fcfcfc"/>
<g transform="translate(10 30) scale(0.16602)">
<rect x="135" y="590" width="385" height="370" fill="#f5f5f7"/>
<rect x="590" y="590" width="280" height="370" fill="#f6f7f6"/>
<rect x="135" y="1100" width="385" height="280" fill="#fafafa"/>
<rect x="600" y="1100" width="270" height="280" fill="#f8f9f8"/>
<rect x="120" y="960" width="770" height="50" fill="#f3f8f1"/>
</g></g>

<g stroke="#4be474" stroke-width="1" fill="none" opacity="1">
<path d="M101.8 121.6V194M101.8 212.6V266.2M30.2 203.5H93M109.6 203.5H157.1"/>
<rect x="93" y="194" width="16.6" height="18.6"/>
</g>
<g stroke="#4be474" stroke-width="1" fill="none">
<rect x="30.5" y="255.9" width="28.8" height="9"/>
<path d="M39.8 255.4V265.4M49.7 255.4V265.4M32 260.4H38.9M40.7 260.4H48.8M44.9 256.9V263.9M50.9 260.4H57.8"/>
</g>
</g>
<rect x="507.5" y="109.9" width="140.7" height="156.3" fill="#060606"/>
<clipPath id="tc2"><rect x="509.7" y="112.9" width="134.5" height="149.3"/></clipPath>
<g clip-path="url(#tc2)">
<g filter="url(#bl4_0)">
<rect x="497.7" y="100.9" width="158.5" height="173.3" fill="#e4e4e4"/>
<g transform="translate(495 15) scale(0.16656)">
<rect x="80" y="900" width="55" height="580" fill="#b6b6b6"/>
<rect x="80" y="580" width="200" height="330" fill="#8e8e8e"/>
<rect x="150" y="600" width="50" height="300" fill="#a2a2a2"/>
<rect x="270" y="580" width="90" height="330" fill="#b0b0b0"/>
<rect x="360" y="580" width="110" height="320" fill="#cfcfcf"/>
<rect x="150" y="910" width="310" height="570" fill="#d2d2d2"/>
<rect x="90" y="1100" width="110" height="380" fill="#bebebe"/>
<rect x="280" y="1060" width="140" height="240" fill="#e4e4e4"/>
<rect x="520" y="600" width="370" height="400" fill="#ececec"/>
<rect x="540" y="1080" width="350" height="400" fill="#e6e6e6"/>
<rect x="560" y="650" width="240" height="250" fill="#f2f2f2"/>
<rect x="440" y="600" width="40" height="400" fill="#e8e8e8"/>
<rect x="860" y="600" width="40" height="880" fill="#f4f4f4"/>
</g></g>

<g stroke="#4be474" stroke-width="1" fill="none" opacity="1">
<path d="M577.1 112.9V179.9M577.1 196.5V262.2M509.7 187.7H569.1M584.1 187.7H644.2"/>
<rect x="569.1" y="179.9" width="15" height="16.6"/>
</g>
<g stroke="#4be474" stroke-width="1" fill="none">
<rect x="510.5" y="252" width="29.8" height="9.8"/>
<path d="M520.2 251.5V262.3M530.3 251.5V262.3M512 256.9H519.2M521.1 256.9H529.4M525.4 253V260.8M531.6 256.9H538.8"/>
</g>
</g>
<rect x="27.9" y="342.3" width="132.8" height="148.6" fill="#060606"/>
<clipPath id="tc3"><rect x="30.4" y="344.8" width="126.8" height="143.1"/></clipPath>
<g clip-path="url(#tc3)">
<g filter="url(#bl3_0)">
<rect x="18.4" y="332.8" width="150.8" height="167.1" fill="#ea162e"/>
<g transform="translate(10 300) scale(0.16602)">
<rect x="122" y="270" width="763" height="60" fill="#d8142c"/>
<rect x="150" y="330" width="330" height="270" fill="#e21a34"/>
<rect x="230" y="520" width="190" height="120" fill="#c81830"/>
<rect x="520" y="300" width="340" height="300" fill="#dc1428"/>
<rect x="122" y="720" width="378" height="330" fill="#f0142c"/>
<rect x="520" y="720" width="200" height="410" fill="#ee1a32"/>
<rect x="720" y="800" width="165" height="160" fill="#a80e22"/>
<rect x="700" y="960" width="185" height="170" fill="#e02a48"/>
<rect x="122" y="1000" width="178" height="130" fill="#d82040"/>
<rect x="560" y="600" width="320" height="180" fill="#f8142c"/>
</g></g>

<g stroke="#5f8f2a" stroke-width="1" fill="none" opacity="1">
<path d="M93.3 344.8V408.2M93.3 424.2V487.9M30.4 416.2H86M100.5 416.2H157.2"/>
<rect x="86" y="408.2" width="14.5" height="16"/>
</g>
<g stroke="#25c438" stroke-width="1" fill="none">
<rect x="30.8" y="477.3" width="27.7" height="9.8"/>
<path d="M39.8 476.8V487.6M49.2 476.8V487.6M32.3 482.2H38.9M40.6 482.2H48.4M44.6 478.3V486.1M50.4 482.2H57"/>
</g>
</g>
<rect x="510.3" y="331.9" width="134.1" height="149.9" fill="#060606"/>
<clipPath id="tc4"><rect x="512.3" y="333.9" width="129.1" height="144.4"/></clipPath>
<g clip-path="url(#tc4)">
<g filter="url(#bl3_0)">
<rect x="500.3" y="321.9" width="153.1" height="168.4" fill="#de2238"/>
<g transform="translate(495 295) scale(0.16602)">
<rect x="105" y="235" width="415" height="65" fill="#c42844"/>
<rect x="250" y="300" width="90" height="220" fill="#a81c34"/>
<rect x="120" y="300" width="120" height="300" fill="#dc2a3c"/>
<rect x="340" y="300" width="180" height="340" fill="#f0202e"/>
<rect x="560" y="235" width="240" height="185" fill="#b42848"/>
<rect x="700" y="330" width="100" height="190" fill="#e81c34"/>
<rect x="560" y="430" width="140" height="210" fill="#cc2840"/>
<rect x="808" y="235" width="72" height="85" fill="#30a090"/>
<rect x="808" y="320" width="72" height="100" fill="#a84868"/>
<rect x="810" y="420" width="70" height="280" fill="#a02848"/>
<rect x="800" y="700" width="80" height="400" fill="#8c3048"/>
<rect x="105" y="640" width="375" height="80" fill="#a82036"/>
<rect x="105" y="760" width="195" height="240" fill="#b41830"/>
<rect x="300" y="760" width="200" height="340" fill="#d82a40"/>
<rect x="240" y="900" width="140" height="200" fill="#f22840"/>
<rect x="560" y="760" width="240" height="160" fill="#f01c30"/>
<rect x="510" y="940" width="230" height="160" fill="#b83050"/>
<rect x="740" y="960" width="80" height="140" fill="#8c4068"/>
<rect x="105" y="1000" width="95" height="100" fill="#c82038"/>
</g></g>
<g filter="url(#bl1_0)"><rect x="629.3" y="334" width="12.2" height="14" fill="#2ea595"/><rect x="629.3" y="348" width="12.2" height="16" fill="#a04a6a" opacity="0.8"/></g>
<g stroke="#2fae3e" stroke-width="1" fill="none" opacity="1">
<path d="M583.5 333.9V405.9M583.5 420.3V478.3M512.3 413.2H576.3M590 413.2H641.4"/>
<rect x="576.3" y="405.9" width="13.7" height="14.4"/>
</g>
<g stroke="#25c438" stroke-width="1" fill="none">
<rect x="512.9" y="467.8" width="27.3" height="9"/>
<path d="M521.7 467.3V477.3M531.1 467.3V477.3M514.4 472.3H520.9M522.6 472.3H530.2M526.5 468.8V475.8M532.2 472.3H538.7"/>
</g>
</g>
<rect x="27" y="1062.2" width="133.5" height="151.4" fill="#060606"/>
<clipPath id="tc5"><rect x="29" y="1064.7" width="128.5" height="144.9"/></clipPath>
<g clip-path="url(#tc5)">
<g filter="url(#bl3_0)">
<rect x="17" y="1052.7" width="152.5" height="168.9" fill="#a4a4a4"/>
<g transform="translate(10 955) scale(0.17297)">
<rect x="110" y="635" width="290" height="245" fill="#a9a9a9"/>
<rect x="400" y="635" width="160" height="165" fill="#c2c2c2"/>
<rect x="560" y="635" width="295" height="265" fill="#9c9c9c"/>
<rect x="180" y="800" width="240" height="160" fill="#b4b4b4"/>
<rect x="415" y="880" width="275" height="170" fill="#606363"/>
<rect x="480" y="885" width="160" height="160" fill="#474b4b"/>
<rect x="330" y="960" width="85" height="90" fill="#8a8a8a"/>
<rect x="690" y="900" width="165" height="150" fill="#9a9a9a"/>
<rect x="110" y="1050" width="370" height="80" fill="#a8a8a8"/>
<rect x="560" y="1050" width="290" height="180" fill="#b4b4b4"/>
<rect x="110" y="1130" width="745" height="40" fill="#b09aa8"/>
<rect x="120" y="1170" width="360" height="130" fill="#6e6e6e"/>
<rect x="230" y="1230" width="170" height="60" fill="#626262"/>
<rect x="415" y="1230" width="435" height="240" fill="#c0c4c2"/>
<rect x="600" y="1330" width="180" height="70" fill="#cfd2d0"/>
<rect x="110" y="1300" width="220" height="170" fill="#9a9a9a"/>
<rect x="330" y="1300" width="85" height="170" fill="#b0b0b0"/>
<rect x="110" y="635" width="30" height="835" fill="#909090"/>
</g></g>

<g stroke="#3fe27c" stroke-width="0.9" fill="none" opacity="0.75">
<path d="M99.9 1064.7V1137.5M99.9 1152.2V1209.6M29 1144.4H92.7M106 1144.4H157.5"/>
<rect x="92.7" y="1137.5" width="13.3" height="14.7"/>
</g>
<g stroke="#22d83a" stroke-width="1" fill="none">
<rect x="29.5" y="1198.5" width="29.3" height="10.3"/>
<path d="M39 1198V1209.3M49 1198V1209.3M31 1203.7H38.1M39.9 1203.7H48.1M44.1 1199.5V1207.8M50.2 1203.7H57.3"/>
</g>
</g>
<rect x="510.2" y="1060.5" width="138.7" height="155.7" fill="#060606"/>
<clipPath id="tc6"><rect x="512.7" y="1063" width="133.2" height="149.2"/></clipPath>
<g clip-path="url(#tc6)">
<g filter="url(#bl3_0)">
<rect x="500.7" y="1051" width="157.2" height="173.2" fill="#6b6b6b"/>
<g transform="translate(495 955) scale(0.17297)">
<rect x="102" y="625" width="773" height="75" fill="#747474"/>
<rect x="130" y="720" width="330" height="280" fill="#6a6a6a"/>
<rect x="250" y="760" width="100" height="140" fill="#7a7a7a"/>
<rect x="570" y="700" width="290" height="260" fill="#6e6e6e"/>
<rect x="790" y="780" width="80" height="120" fill="#5a5a5a"/>
<rect x="700" y="960" width="170" height="80" fill="#5c5a5e"/>
<rect x="230" y="1000" width="240" height="90" fill="#585858"/>
<rect x="480" y="960" width="120" height="100" fill="#868a86"/>
<rect x="102" y="1120" width="768" height="50" fill="#605a5e"/>
<rect x="150" y="1180" width="330" height="140" fill="#585858"/>
<rect x="570" y="1230" width="230" height="80" fill="#555555"/>
<rect x="330" y="1320" width="470" height="160" fill="#727272"/>
<rect x="102" y="1330" width="198" height="150" fill="#5e5e5e"/>
<rect x="600" y="1330" width="200" height="50" fill="#808080"/>
<rect x="102" y="625" width="28" height="855" fill="#7a7a7a"/>
<rect x="850" y="625" width="25" height="855" fill="#7c7c7c"/>
</g></g>

<g stroke="#1fc43c" stroke-width="1" fill="none" opacity="1">
<path d="M585.3 1063V1137.5M585.3 1152.2V1212.2M512.7 1145.3H579.2M593.1 1145.3H645.9"/>
<rect x="579.2" y="1137.5" width="13.9" height="14.7"/>
</g>
<g stroke="#22d83a" stroke-width="1" fill="none">
<rect x="513.1" y="1201.1" width="29" height="10.3"/>
<path d="M522.5 1200.6V1211.9M532.4 1200.6V1211.9M514.6 1206.2H521.6M523.4 1206.2H531.5M527.6 1202.1V1210.4M533.6 1206.2H540.6"/>
</g>
</g>
<rect x="27.9" y="1349.8" width="132.8" height="149.4" fill="#060606"/>
<clipPath id="tc7"><rect x="30.4" y="1353.3" width="126.3" height="142.4"/></clipPath>
<g clip-path="url(#tc7)">
<g filter="url(#bl1_0)">
<rect x="18.4" y="1341.3" width="150.3" height="166.4" fill="#02030a"/>
<g transform="translate(0 0) scale(1.00000)">
</g></g>
<g filter="url(#bl1_5)"><rect x="20.4" y="1343.3" width="146.3" height="162.4" fill="#02030a"/><rect x="30.2" y="1353.1" width="13" height="6.9" fill="#d2486a"/>
<rect x="42.8" y="1353.1" width="19.3" height="6.9" fill="#84a8a2"/>
<rect x="61.8" y="1353.1" width="19.3" height="6.9" fill="#a4fcfc"/>
<rect x="80.7" y="1353.1" width="6.7" height="6.9" fill="#58f6fa"/>
<rect x="87" y="1353.1" width="6.7" height="6.9" fill="#145060"/>
<rect x="99.7" y="1353.1" width="6.7" height="6.9" fill="#145060"/>
<rect x="106" y="1353.1" width="19.3" height="6.9" fill="#58f6fa"/>
<rect x="124.9" y="1353.1" width="13" height="6.9" fill="#a4fcfc"/>
<rect x="137.6" y="1353.1" width="6.7" height="6.9" fill="#b8b4bc"/>
<rect x="143.9" y="1353.1" width="6.7" height="6.9" fill="#8f929c"/>
<rect x="150.2" y="1353.1" width="6.7" height="6.9" fill="#58f6fa"/>
<rect x="30.2" y="1359.6" width="13" height="6.9" fill="#d2486a"/>
<rect x="42.8" y="1359.6" width="6.7" height="6.9" fill="#c42c46"/>
<rect x="49.1" y="1359.6" width="13" height="6.9" fill="#fa1230"/>
<rect x="61.8" y="1359.6" width="6.7" height="6.9" fill="#c42c46"/>
<rect x="68.1" y="1359.6" width="6.7" height="6.9" fill="#145060"/>
<rect x="74.4" y="1359.6" width="13" height="6.9" fill="#1b88a8"/>
<rect x="112.3" y="1359.6" width="6.7" height="6.9" fill="#58f6fa"/>
<rect x="118.6" y="1359.6" width="19.3" height="6.9" fill="#a4fcfc"/>
<rect x="137.6" y="1359.6" width="13" height="6.9" fill="#84a8a2"/>
<rect x="150.2" y="1359.6" width="6.7" height="6.9" fill="#58f6fa"/>
<rect x="30.2" y="1366" width="6.7" height="6.9" fill="#d2486a"/>
<rect x="36.5" y="1366" width="6.7" height="6.9" fill="#a87690"/>
<rect x="42.8" y="1366" width="32" height="6.9" fill="#fa1230"/>
<rect x="74.4" y="1366" width="6.7" height="6.9" fill="#145060"/>
<rect x="118.6" y="1366" width="6.7" height="6.9" fill="#1b88a8"/>
<rect x="124.9" y="1366" width="13" height="6.9" fill="#a4fcfc"/>
<rect x="137.6" y="1366" width="13" height="6.9" fill="#84a8a2"/>
<rect x="150.2" y="1366" width="6.7" height="6.9" fill="#a4fcfc"/>
<rect x="30.2" y="1372.5" width="13" height="6.9" fill="#d2486a"/>
<rect x="42.8" y="1372.5" width="32" height="6.9" fill="#fa1230"/>
<rect x="74.4" y="1372.5" width="6.7" height="6.9" fill="#0b1a2c"/>
<rect x="124.9" y="1372.5" width="6.7" height="6.9" fill="#58f6fa"/>
<rect x="131.2" y="1372.5" width="6.7" height="6.9" fill="#a4fcfc"/>
<rect x="137.6" y="1372.5" width="13" height="6.9" fill="#b8b4bc"/>
<rect x="150.2" y="1372.5" width="6.7" height="6.9" fill="#a4fcfc"/>
<rect x="30.2" y="1379" width="6.7" height="6.9" fill="#a87690"/>
<rect x="36.5" y="1379" width="6.7" height="6.9" fill="#d2486a"/>
<rect x="42.8" y="1379" width="32" height="6.9" fill="#fa1230"/>
<rect x="74.4" y="1379" width="6.7" height="6.9" fill="#0b1a2c"/>
<rect x="124.9" y="1379" width="6.7" height="6.9" fill="#145060"/>
<rect x="131.2" y="1379" width="13" height="6.9" fill="#58f6fa"/>
<rect x="143.9" y="1379" width="13" height="6.9" fill="#a4fcfc"/>
<rect x="30.2" y="1385.5" width="6.7" height="6.9" fill="#a87690"/>
<rect x="36.5" y="1385.5" width="6.7" height="6.9" fill="#8f929c"/>
<rect x="42.8" y="1385.5" width="6.7" height="6.9" fill="#c42c46"/>
<rect x="49.1" y="1385.5" width="25.7" height="6.9" fill="#fa1230"/>
<rect x="74.4" y="1385.5" width="6.7" height="6.9" fill="#0b1a2c"/>
<rect x="131.2" y="1385.5" width="6.7" height="6.9" fill="#58f6fa"/>
<rect x="137.6" y="1385.5" width="19.3" height="6.9" fill="#a4fcfc"/>
<rect x="30.2" y="1391.9" width="6.7" height="6.9" fill="#c42c46"/>
<rect x="36.5" y="1391.9" width="13" height="6.9" fill="#145060"/>
<rect x="49.1" y="1391.9" width="25.7" height="6.9" fill="#fa1230"/>
<rect x="131.2" y="1391.9" width="6.7" height="6.9" fill="#145060"/>
<rect x="137.6" y="1391.9" width="6.7" height="6.9" fill="#58f6fa"/>
<rect x="143.9" y="1391.9" width="6.7" height="6.9" fill="#a4fcfc"/>
<rect x="150.2" y="1391.9" width="6.7" height="6.9" fill="#e0a4c4"/>
<rect x="30.2" y="1398.4" width="6.7" height="6.9" fill="#fa1230"/>
<rect x="36.5" y="1398.4" width="6.7" height="6.9" fill="#8f929c"/>
<rect x="42.8" y="1398.4" width="13" height="6.9" fill="#0b1a2c"/>
<rect x="55.5" y="1398.4" width="13" height="6.9" fill="#fa1230"/>
<rect x="68.1" y="1398.4" width="6.7" height="6.9" fill="#8c1630"/>
<rect x="131.2" y="1398.4" width="6.7" height="6.9" fill="#145060"/>
<rect x="137.6" y="1398.4" width="6.7" height="6.9" fill="#58f6fa"/>
<rect x="143.9" y="1398.4" width="6.7" height="6.9" fill="#a4fcfc"/>
<rect x="150.2" y="1398.4" width="6.7" height="6.9" fill="#b8b4bc"/>
<rect x="30.2" y="1404.9" width="6.7" height="6.9" fill="#fa1230"/>
<rect x="36.5" y="1404.9" width="6.7" height="6.9" fill="#a87690"/>
<rect x="42.8" y="1404.9" width="13" height="6.9" fill="#0b1a2c"/>
<rect x="55.5" y="1404.9" width="6.7" height="6.9" fill="#8c1630"/>
<rect x="61.8" y="1404.9" width="6.7" height="6.9" fill="#c42c46"/>
<rect x="131.2" y="1404.9" width="6.7" height="6.9" fill="#0b1a2c"/>
<rect x="137.6" y="1404.9" width="13" height="6.9" fill="#84a8a2"/>
<rect x="150.2" y="1404.9" width="6.7" height="6.9" fill="#8f929c"/>
<rect x="30.2" y="1411.4" width="6.7" height="6.9" fill="#fa1230"/>
<rect x="36.5" y="1411.4" width="6.7" height="6.9" fill="#b8b4bc"/>
<rect x="42.8" y="1411.4" width="6.7" height="6.9" fill="#145060"/>
<rect x="49.1" y="1411.4" width="19.3" height="6.9" fill="#0b1a2c"/>
<rect x="112.3" y="1411.4" width="19.3" height="6.9" fill="#8c1630"/>
<rect x="131.2" y="1411.4" width="25.7" height="6.9" fill="#a87690"/>
<rect x="30.2" y="1417.8" width="6.7" height="6.9" fill="#c42c46"/>
<rect x="36.5" y="1417.8" width="6.7" height="6.9" fill="#a87690"/>
<rect x="42.8" y="1417.8" width="25.7" height="6.9" fill="#145060"/>
<rect x="68.1" y="1417.8" width="6.7" height="6.9" fill="#0b1a2c"/>
<rect x="112.3" y="1417.8" width="13" height="6.9" fill="#c42c46"/>
<rect x="124.9" y="1417.8" width="6.7" height="6.9" fill="#a87690"/>
<rect x="131.2" y="1417.8" width="13" height="6.9" fill="#8f929c"/>
<rect x="143.9" y="1417.8" width="13" height="6.9" fill="#c42c46"/>
<rect x="30.2" y="1424.3" width="6.7" height="6.9" fill="#a87690"/>
<rect x="36.5" y="1424.3" width="6.7" height="6.9" fill="#145060"/>
<rect x="42.8" y="1424.3" width="6.7" height="6.9" fill="#0b1a2c"/>
<rect x="112.3" y="1424.3" width="13" height="6.9" fill="#c42c46"/>
<rect x="124.9" y="1424.3" width="19.3" height="6.9" fill="#d2486a"/>
<rect x="143.9" y="1424.3" width="6.7" height="6.9" fill="#8f929c"/>
<rect x="150.2" y="1424.3" width="6.7" height="6.9" fill="#d2486a"/>
<rect x="30.2" y="1430.8" width="6.7" height="6.9" fill="#8f929c"/>
<rect x="112.3" y="1430.8" width="6.7" height="6.9" fill="#c42c46"/>
<rect x="118.6" y="1430.8" width="38.3" height="6.9" fill="#d2486a"/>
<rect x="30.2" y="1437.2" width="6.7" height="6.9" fill="#0b1a2c"/>
<rect x="112.3" y="1437.2" width="13" height="6.9" fill="#a87690"/>
<rect x="124.9" y="1437.2" width="32" height="6.9" fill="#d2486a"/>
<rect x="93.3" y="1443.7" width="13" height="6.9" fill="#0b1a2c"/>
<rect x="106" y="1443.7" width="6.7" height="6.9" fill="#5e6674"/>
<rect x="112.3" y="1443.7" width="19.3" height="6.9" fill="#0b1a2c"/>
<rect x="131.2" y="1443.7" width="13" height="6.9" fill="#145060"/>
<rect x="143.9" y="1443.7" width="13" height="6.9" fill="#c42c46"/>
<rect x="87" y="1450.2" width="6.7" height="6.9" fill="#5e6674"/>
<rect x="93.3" y="1450.2" width="13" height="6.9" fill="#8f929c"/>
<rect x="106" y="1450.2" width="6.7" height="6.9" fill="#a87690"/>
<rect x="112.3" y="1450.2" width="19.3" height="6.9" fill="#0b1a2c"/>
<rect x="131.2" y="1450.2" width="6.7" height="6.9" fill="#145060"/>
<rect x="137.6" y="1450.2" width="6.7" height="6.9" fill="#c42c46"/>
<rect x="143.9" y="1450.2" width="6.7" height="6.9" fill="#8f929c"/>
<rect x="150.2" y="1450.2" width="6.7" height="6.9" fill="#c42c46"/>
<rect x="80.7" y="1456.7" width="6.7" height="6.9" fill="#0b1a2c"/>
<rect x="87" y="1456.7" width="6.7" height="6.9" fill="#5e6674"/>
<rect x="93.3" y="1456.7" width="6.7" height="6.9" fill="#b8b4bc"/>
<rect x="99.7" y="1456.7" width="6.7" height="6.9" fill="#d2486a"/>
<rect x="106" y="1456.7" width="6.7" height="6.9" fill="#fa1230"/>
<rect x="112.3" y="1456.7" width="6.7" height="6.9" fill="#0b1a2c"/>
<rect x="118.6" y="1456.7" width="6.7" height="6.9" fill="#8c1630"/>
<rect x="124.9" y="1456.7" width="19.3" height="6.9" fill="#c42c46"/>
<rect x="143.9" y="1456.7" width="6.7" height="6.9" fill="#84a8a2"/>
<rect x="150.2" y="1456.7" width="6.7" height="6.9" fill="#c42c46"/>
<rect x="80.7" y="1463.1" width="6.7" height="6.9" fill="#5e6674"/>
<rect x="87" y="1463.1" width="13" height="6.9" fill="#8f929c"/>
<rect x="99.7" y="1463.1" width="6.7" height="6.9" fill="#d2486a"/>
<rect x="106" y="1463.1" width="25.7" height="6.9" fill="#fa1230"/>
<rect x="131.2" y="1463.1" width="13" height="6.9" fill="#c42c46"/>
<rect x="143.9" y="1463.1" width="6.7" height="6.9" fill="#84a8a2"/>
<rect x="150.2" y="1463.1" width="6.7" height="6.9" fill="#c42c46"/>
<rect x="74.4" y="1469.6" width="6.7" height="6.9" fill="#0b1a2c"/>
<rect x="80.7" y="1469.6" width="13" height="6.9" fill="#8f929c"/>
<rect x="93.3" y="1469.6" width="6.7" height="6.9" fill="#b8b4bc"/>
<rect x="99.7" y="1469.6" width="6.7" height="6.9" fill="#d2486a"/>
<rect x="106" y="1469.6" width="32" height="6.9" fill="#fa1230"/>
<rect x="137.6" y="1469.6" width="19.3" height="6.9" fill="#c42c46"/>
<rect x="74.4" y="1476.1" width="6.7" height="6.9" fill="#145060"/>
<rect x="80.7" y="1476.1" width="13" height="6.9" fill="#8f929c"/>
<rect x="93.3" y="1476.1" width="6.7" height="6.9" fill="#d2486a"/>
<rect x="99.7" y="1476.1" width="38.3" height="6.9" fill="#fa1230"/>
<rect x="137.6" y="1476.1" width="19.3" height="6.9" fill="#c42c46"/>
<rect x="68.1" y="1482.6" width="6.7" height="6.9" fill="#0b1a2c"/>
<rect x="74.4" y="1482.6" width="13" height="6.9" fill="#84a8a2"/>
<rect x="87" y="1482.6" width="6.7" height="6.9" fill="#8f929c"/>
<rect x="93.3" y="1482.6" width="38.3" height="6.9" fill="#fa1230"/>
<rect x="131.2" y="1482.6" width="13" height="6.9" fill="#c42c46"/>
<rect x="143.9" y="1482.6" width="13" height="6.9" fill="#a87690"/>
<rect x="68.1" y="1489" width="6.7" height="6.9" fill="#145060"/>
<rect x="74.4" y="1489" width="6.7" height="6.9" fill="#84a8a2"/>
<rect x="80.7" y="1489" width="13" height="6.9" fill="#d2486a"/>
<rect x="93.3" y="1489" width="32" height="6.9" fill="#fa1230"/>
<rect x="124.9" y="1489" width="13" height="6.9" fill="#c42c46"/>
<rect x="137.6" y="1489" width="19.3" height="6.9" fill="#d2486a"/></g>
<g stroke="#d41426" stroke-width="1" fill="none">
<rect x="31.3" y="1485.6" width="27.2" height="9.8"/>
<path d="M40.1 1485.1V1495.9M49.4 1485.1V1495.9M32.8 1490.5H39.3M41 1490.5H48.6M44.9 1486.6V1494.4M50.5 1490.5H57"/>
</g>
</g>
<rect x="512.9" y="1350.6" width="137.8" height="155.3" fill="#060606"/>
<clipPath id="tc8"><rect x="515.4" y="1354.6" width="131.3" height="147.8"/></clipPath>
<g clip-path="url(#tc8)">
<g filter="url(#bl3_0)">
<rect x="503.4" y="1342.6" width="155.3" height="171.8" fill="#70d2c6"/>
<g transform="translate(495 1300) scale(0.16602)">
<rect x="122" y="330" width="793" height="90" fill="#84e4d8"/>
<rect x="400" y="380" width="300" height="140" fill="#8cecde"/>
<rect x="130" y="340" width="170" height="220" fill="#5aa6a2"/>
<rect x="122" y="560" width="78" height="440" fill="#58b8aa"/>
<rect x="200" y="600" width="200" height="300" fill="#6ac8bc"/>
<rect x="700" y="420" width="215" height="200" fill="#78dacd"/>
<rect x="780" y="625" width="100" height="575" fill="#36a092"/>
<rect x="880" y="625" width="35" height="575" fill="#64ccbe"/>
<rect x="122" y="1000" width="378" height="220" fill="#68cabe"/>
<rect x="500" y="980" width="280" height="240" fill="#72d6ca"/>
<rect x="650" y="640" width="130" height="280" fill="#6ed2c6"/>
</g></g>
<g filter="url(#bl0_6)"><rect x="559.7" y="1404.6" width="15" height="15" fill="#e2688a"/><rect x="566.4" y="1404.6" width="36.5" height="49" fill="#f4486a"/><rect x="574.7" y="1404.6" width="20.8" height="49" fill="#fc1040"/><rect x="566.4" y="1413" width="29" height="40.6" fill="#fa1a48" opacity="0.7"/></g>
<g stroke="#e03050" stroke-width="1" fill="none">
<rect x="515.8" y="1491.8" width="29.3" height="10.2"/>
<path d="M525.3 1491.3V1502.5M535.3 1491.3V1502.5M517.3 1496.9H524.4M526.2 1496.9H534.4M530.5 1492.8V1501M536.5 1496.9H543.6"/>
</g>
</g></g>
<g id="maps"><clipPath id="reg1"><polygon points="157.1,745.3 155.2,723.8 159.1,716 156.1,706.2 154.2,686.7 159.1,675 155.2,659.4 159.1,643.8 158.1,635.9 161,628.1 159.1,616.4 162,608.6 168.8,602.7 165.9,599.8 174.7,595.9 182.5,593.4 188.4,595.9 191.3,601.8 204,595.9 207.9,594.5 213.8,598.8 223.5,600.8 231.3,596.9 239.1,593.9 247,591 250.9,584.8 256.7,584.2 264.5,585.2 272.3,586.1 282.1,585.2 291.9,585.2 300,587.1 307.8,589.1 317.6,592 329.3,593.9 339.1,595.9 346.9,600.8 352.7,606.6 360.5,605.7 366.4,608.6 372.3,613.5 378.1,612.5 385.9,608.6 391.8,602.7 399.6,601.8 407.4,601.8 413.3,598.8 419.1,601.8 427,605.7 436.7,606.6 446.5,608.6 454.3,607.6 462.1,609.6 467,614.5 468,622.3 467,632 468.9,641.8 465,649.6 462.1,657.4 456.2,663.3 452.3,671.1 449.4,678.9 451.4,686.7 452.3,694.5 448.4,700.4 451.4,706.2 448.4,714.1 445.5,721.9 446.5,729.7 443.6,737.5 441.6,745.3 443.6,730 442.6,737.8 440.6,747.6 439.6,757.3 436.7,765.2 430.9,773.9 425,778.8 419.1,779.8 413.3,782.7 406.4,786.6 399.6,792.5 395.7,798.4 401.6,800.3 402.5,808.1 399.6,817.9 396.7,827.7 396.7,839.4 397.7,847.2 403.5,858.9 403.5,866.7 400.6,874.5 395.7,880.4 391.8,884.3 385.9,882.3 382,886.2 374.2,886.2 366.4,890.2 362.5,896 352.7,894.1 343,892.1 333.2,894.1 327.3,889.2 319.5,885.3 311.7,884.3 315.3,884.3 307.5,883.3 299.7,880.4 291.9,883.3 284.1,879.4 276.2,878.4 270.4,880.4 264.5,885.3 258.7,884.3 254.8,875.5 245,872.6 237.2,869.6 229.4,865.7 221.6,863.8 211.8,860.9 205.9,857.9 200.1,854 196.2,849.1 186.4,850.1 176.6,849.1 168.8,847.2 159.1,844.3 151.2,842.3 153.2,831.6 154.2,821.8 152.2,812 155.2,802.3 153.2,796.4 154.2,786.6 158.1,774.9 160,765.2 158.1,755.4 159.1,745.6 157.1,735.9"/></clipPath>
<clipPath id="fr1"><rect x="145" y="574" width="328" height="328"/></clipPath>
<path d="M154.8 573.4L144.4 902.3M312.5 573.4L305.2 902.3M468.9 573.4L466 902.3M144.4 651.2L473.4 657M144.4 843.3L473.4 849.1" stroke="#d9d9d9" stroke-width="0.8" fill="none"/>
<g clip-path="url(#fr1)"><g filter="url(#edge)"><g clip-path="url(#reg1)">
<g filter="url(#mtm)">
<rect x="140" y="570" width="340" height="340" fill="#b4c4c0"/>
<polygon points="152.3,592.3 236.8,588.3 240.8,713 204.6,729.1 152.3,717.1" fill="#c99aa4" filter="url(#mb7)" opacity="1"/>
<polygon points="373.6,604.4 470.2,604.4 470.2,660.7 446.1,701 381.7,676.8" fill="#adb5b4" filter="url(#mb7)" opacity="1"/>
<polygon points="405.8,616.5 462.2,620.5 458.1,672.8 421.9,672.8" fill="#a3b9b5" filter="url(#mb4)" opacity="0.8"/>
<polygon points="377.7,608.4 421.9,600.4 421.9,632.6 381.7,640.6" fill="#b8aaae" filter="url(#mb4)" opacity="0.8"/>
<polygon points="252.9,713 325.4,676.8 389.7,672.8 381.7,729.1 325.4,765.4 261,765.4 232.8,741.2" fill="#b5cdc8" filter="url(#mb7)" opacity="1"/>
<polygon points="236.8,701 261,699 261,717.1 236.8,717.1" fill="#a292a2" filter="url(#mb2)" opacity="0.8"/>
<polygon points="381.7,701 417.9,692.9 450.1,699 446.9,729.1 442.1,757.3 430,777.4 409.9,793.5 381.7,797.5 365.6,765.4 369.6,729.1" fill="#cdb0b6" filter="url(#mb7)" opacity="1"/>
<polygon points="417.9,701 448.1,701 442.1,757.3 426,781.4 409.9,765.4" fill="#d49aa4" filter="url(#mb4)" opacity="0.7"/>
<ellipse cx="174.4" cy="751.3" rx="28.2" ry="40.2" transform="rotate(0 174.4 751.3)" fill="#b0c4bf" filter="url(#mb7)" opacity="0.8"/>
<ellipse cx="234.8" cy="760.5" rx="40.2" ry="20.9" transform="rotate(-6 234.8 760.5)" fill="#dc96a1" filter="url(#mb7)" opacity="0.95"/>
<ellipse cx="232.8" cy="761.3" rx="24.1" ry="12.1" transform="rotate(-6 232.8 761.3)" fill="#e08a98" filter="url(#mb4)" opacity="0.6"/>
<ellipse cx="293.2" cy="799.6" rx="36.2" ry="24.1" transform="rotate(-10 293.2 799.6)" fill="#9fc6c2" filter="url(#mb7)" opacity="0.9"/>
<polygon points="329.4,771.4 361.6,760.5 397.8,765.4 401,817.7 381.7,845.8 349.5,847.8 325.4,829.7" fill="#cba0a6" filter="url(#mb7)" opacity="1"/>
<polygon points="150.3,793.5 261,801.6 269,845.8 150.3,839.8" fill="#c2b6b9" filter="url(#mb4)" opacity="0.8"/>
<polygon points="150.3,805.6 212.7,810.4 220.7,843.8 150.3,841" fill="#d88896" filter="url(#mb4)" opacity="0.9"/>
</g>
<g filter="url(#vein)">
<polygon points="148.3,588.3 244.9,580.2 381.7,596.3 381.7,672.8 325.4,684.9 301.2,717.1 232.8,721.1 200.6,733.2 148.3,721.1" fill="#d23e5a" filter="url(#mb7)" opacity="0.95"/>
<polygon points="357.5,701 450.1,696.9 442.1,769.4 405.8,801.6 357.5,789.5" fill="#d4506a" filter="url(#mb7)" opacity="0.7"/>
<polygon points="323.3,761.3 399.8,761.3 399.8,821.7 377.7,849.9 323.3,839.8" fill="#d03c58" filter="url(#mb7)" opacity="0.95"/>
<polygon points="148.3,789.5 269,797.5 273,849.9 148.3,841.8" fill="#d4506a" filter="url(#mb7)" opacity="0.6"/>
<ellipse cx="234.8" cy="760.5" rx="42.3" ry="24.1" transform="rotate(-6 234.8 760.5)" fill="#da5a72" filter="url(#mb7)" opacity="0.5"/>
</g>
<g filter="url(#vein2)">
<polygon points="148.3,588.3 244.9,580.2 365.6,596.3 365.6,672.8 317.3,684.9 301.2,717.1 232.8,721.1 200.6,733.2 148.3,721.1" fill="#cc4660" filter="url(#mb7)" opacity="1"/>
<polygon points="323.3,761.3 399.8,761.3 399.8,821.7 377.7,849.9 323.3,839.8" fill="#cc4660" filter="url(#mb7)" opacity="0.7"/>
<polygon points="373.6,600.4 470.2,604.4 462.2,701 381.7,676.8" fill="#8a9a9a" filter="url(#mb7)" opacity="0.6"/>
<polygon points="252.9,713 381.7,672.8 381.7,729.1 325.4,821.7 261,821.7 232.8,741.2" fill="#78aaa6" filter="url(#mb7)" opacity="0.45"/>
</g>
<g filter="url(#mtm)">
<polygon points="216.7,600.4 230.8,586.3 252.9,578.6 283.1,578.6 305.2,584.3 315.3,600.4 312.5,622.5 306,643.8 296.4,664.7 277.1,673.6 259.4,668.8 238.8,659.1 221.9,638.2 215.1,616.5" fill="#da4560" filter="url(#mb4)" opacity="1"/>
<polygon points="301.2,588.3 341.4,596.3 367.6,614.4 367.6,646.6 349.5,672.8 317.3,680.8 297.2,660.7 303.2,620.5" fill="#d2526a" filter="url(#mb4)" opacity="0.92"/>
<polygon points="261,664.7 293.2,660.7 310.1,677.6 301.2,701 277.1,709 261,692.9" fill="#ce6c7e" filter="url(#mb4)" opacity="0.75"/>
<polygon points="150.3,660.7 174.4,664.7 180.5,688.9 152.3,694.9" fill="#d4607a" filter="url(#mb4)" opacity="0.8"/>
<polygon points="335.4,777.4 361.6,774.2 365.6,797.5 338.2,801.6" fill="#cc5870" filter="url(#mb4)" opacity="0.7"/>
<polygon points="214.7,745.2 232.8,743.2 261,749.3 252.9,759.3 220.7,757.3" fill="#d86880" filter="url(#mb4)" opacity="0.5"/>
<polygon points="148,824 170,829 198,835 225,840 250,845 266,847 276,840 292,842 310,845 330,847 345,848 355,843 362,835 368,827 378,821 388,817 397,813 402,806 470,806 470,905 140,905" fill="#e03452" filter="url(#mb2)"/>
<polygon points="446,742 442,755 436,768 424,777 412,782 402,790 396,800 402,812 470,812 470,742" fill="#dc3c58" filter="url(#mb2)"/>
</g>
</g></g></g>
<clipPath id="reg2"><polygon points="529.4,745.8 527.5,724.3 531.4,716.5 528.4,706.8 526.5,687.2 531.4,675.5 527.5,659.9 531.4,644.2 530.4,636.4 533.3,628.6 531.4,616.9 534.3,609.1 541.1,603.2 538.2,600.3 547,596.4 554.8,593.9 560.7,596.4 563.6,602.3 576.3,596.4 580.2,595 586,599.3 595.8,601.3 603.6,597.4 611.4,594.4 619.3,591.5 623.2,585.3 629,584.7 636.8,585.7 644.6,586.6 654.4,585.7 664.2,585.7 672.3,587.6 680.1,589.6 689.9,592.5 701.6,594.4 711.4,596.4 719.2,601.3 725,607.1 732.8,606.2 738.7,609.1 744.6,614 750.4,613 758.2,609.1 764.1,603.2 771.9,602.3 779.7,602.3 785.6,599.3 791.4,602.3 799.3,606.2 809,607.1 818.8,609.1 826.6,608.1 834.4,610.1 839.3,615 840.3,622.8 839.3,632.5 841.2,642.3 837.3,650.1 834.4,657.9 828.5,663.8 824.6,671.6 821.7,679.4 823.7,687.2 824.6,695 820.7,700.9 823.7,706.8 820.7,714.6 817.8,722.4 818.8,730.2 815.9,738 813.9,745.8 815.9,730.5 814.9,738.3 812.9,748.1 811.9,757.8 809,765.7 803.2,774.4 797.3,779.3 791.4,780.3 785.6,783.2 778.7,787.1 771.9,793 768,798.9 773.9,800.8 774.8,808.6 771.9,818.4 769,828.2 769,839.9 770,847.7 775.8,859.4 775.8,867.2 772.9,875 768,880.9 764.1,884.8 758.2,882.8 754.3,886.8 746.5,886.8 738.7,890.7 734.8,896.5 725,894.6 715.3,892.6 705.5,894.6 699.6,889.7 691.8,885.8 684,884.8 687.6,884.8 679.8,883.8 672,880.9 664.2,883.8 656.4,879.9 648.5,878.9 642.7,880.9 636.8,885.8 631,884.8 627.1,876 617.3,873.1 609.5,870.1 601.7,866.2 593.9,864.3 584.1,861.4 578.2,858.4 572.4,854.5 568.5,849.6 558.7,850.6 548.9,849.6 541.1,847.7 531.4,844.8 523.5,842.8 525.5,832.1 526.5,822.3 524.5,812.5 527.5,802.8 525.5,796.9 526.5,787.1 530.4,775.4 532.3,765.7 530.4,755.9 531.4,746.1 529.4,736.4"/></clipPath>
<clipPath id="fr2"><rect x="514.6" y="573.3" width="329.4" height="329.3"/></clipPath>
<path d="M526.7 572.5L516.4 903.4M682.2 572.5L675.9 903.4M838.4 572.5L835.6 903.4M513.8 653.5L844.8 660.4M513.8 844.3L844.8 851.1" stroke="#d9d9d9" stroke-width="0.8" fill="none"/>
<g clip-path="url(#fr2)"><g filter="url(#edge)"><g clip-path="url(#reg2)">
<g filter="url(#mmo)">
<rect x="510" y="570" width="340" height="340" fill="#686868"/>
<polygon points="528.6,596.8 605.1,592.8 609.1,709.5 576.9,729.6 528.6,713.5" fill="#6c6c6c" filter="url(#mb7)" opacity="1"/>
<polygon points="552.8,604.9 593,600.9 601.1,661.2 564.9,673.3" fill="#767676" filter="url(#mb4)" opacity="0.8"/>
<polygon points="516.6,693.4 552.8,693.4 558.8,749.8 516.6,753.8" fill="#3a3a3a" filter="url(#mb4)" opacity="1"/>
<polygon points="520.6,641.1 544.7,637.1 552.8,673.3 524.6,681.3" fill="#505050" filter="url(#mb4)" opacity="0.8"/>
<polygon points="790.2,608.9 840.5,610.9 834.5,657.2 794.2,653.2" fill="#363636" filter="url(#mb4)" opacity="1"/>
<polygon points="729.8,661.2 818.4,661.2 814.4,765.9 729.8,781.9" fill="#747474" filter="url(#mb7)" opacity="1"/>
<polygon points="737.9,604.9 790.2,604.9 790.2,661.2 737.9,661.2" fill="#6e6e6e" filter="url(#mb4)" opacity="0.8"/>
<polygon points="593,588.8 625.2,578.7 681.6,584.8 729.8,604.9 737.9,641.1 713.7,661.2 681.6,673.3 661.4,701.5 633.3,693.4 605.1,673.3 589,637.1" fill="#a8a8a8" filter="url(#mb7)" opacity="1"/>
<polygon points="599.1,585.6 661.4,582.8 667.5,621 655.4,669.3 625.2,675.3 601.1,641.1" fill="#f2f2f2" filter="url(#mb4)" opacity="1"/>
<polygon points="611.1,584.8 657.4,584 649.4,633.1 617.2,633.1" fill="#ffffff" filter="url(#mb4)" opacity="1"/>
<polygon points="661.4,596.8 729.8,606.9 731.9,645.1 697.7,663.2 661.4,657.2" fill="#d6d6d6" filter="url(#mb4)" opacity="0.9"/>
<polygon points="681.6,612.9 725.8,619 725.8,649.2 691.6,659.2" fill="#e6e6e6" filter="url(#mb4)" opacity="0.85"/>
<polygon points="552.8,698.2 605.1,697.4 605.1,707.9 552.8,708.7" fill="#f2f2f2" filter="url(#mb2)" opacity="0.9"/>
<polygon points="627.2,701.5 643.3,701.5 643.3,713.5 627.2,713.5" fill="#f2f2f2" filter="url(#mb2)" opacity="0.9"/>
<polygon points="609.1,677.3 641.3,673.3 649.4,701.5 625.2,709.5" fill="#d4d4d4" filter="url(#mb4)" opacity="0.8"/>
<polygon points="661.4,677.3 721.8,661.2 733.9,681.3 665.5,705.5" fill="#404040" filter="url(#mb4)" opacity="0.85"/>
<polygon points="649.4,641.1 673.5,637.1 681.6,673.3 661.4,681.3" fill="#4a4a4a" filter="url(#mb4)" opacity="0.7"/>
<ellipse cx="587" cy="767.9" rx="28.2" ry="19.3" transform="rotate(-8 587 767.9)" fill="#9c9c9c" filter="url(#mb4)" opacity="0.9"/>
<ellipse cx="709.7" cy="786" rx="14.5" ry="10.5" transform="rotate(0 709.7 786)" fill="#c8c8c8" filter="url(#mb4)" opacity="0.9"/>
<ellipse cx="657.4" cy="794" rx="27.4" ry="24.9" transform="rotate(0 657.4 794)" fill="#2c2c2c" filter="url(#mb4)" opacity="0.9"/>
<ellipse cx="699.7" cy="814.1" rx="19.3" ry="12.1" transform="rotate(15 699.7 814.1)" fill="#444" filter="url(#mb4)" opacity="0.8"/>
<polygon points="697.7,765.9 770.1,765.9 772.1,822.2 750,846.3 713.7,838.3" fill="#828282" filter="url(#mb7)" opacity="1"/>
<polygon points="522.6,781.9 629.2,790 633.3,838.3 522.6,834.3" fill="#5c5c5c" filter="url(#mb4)" opacity="0.8"/>
</g>
<g filter="url(#vein)">
<polygon points="552.8,584.8 681.6,576.7 754,600.9 750,669.3 697.7,677.3 665.5,717.6 605.1,717.6 552.8,673.3" fill="#f4f4f4" filter="url(#mb7)" opacity="0.9"/>
<polygon points="520.6,673.3 605.1,709.5 605.1,822.2 520.6,830.2" fill="#2a2a2a" filter="url(#mb7)" opacity="0.6"/>
<polygon points="697.7,673.3 822.4,661.2 814.4,765.9 772.1,822.2 697.7,838.3" fill="#2a2a2a" filter="url(#mb7)" opacity="0.55"/>
</g>
<g filter="url(#vein2)">
<polygon points="520.6,592.8 605.1,588.8 605.1,717.6 520.6,717.6" fill="#d8d8d8" filter="url(#mb7)" opacity="0.5"/>
<polygon points="605.1,717.6 822.4,661.2 814.4,765.9 772.1,822.2 697.7,846.3 520.6,838.3 520.6,717.6" fill="#242424" filter="url(#mb7)" opacity="0.6"/>
<polygon points="737.9,600.9 842.5,604.9 834.5,673.3 745.9,673.3" fill="#242424" filter="url(#mb7)" opacity="0.6"/>
</g>
<path d="M146.3 797.5C150.6 799 162.7 804.5 172.4 806.4C182.2 808.3 194.6 809.5 204.6 808.8C214.7 808.1 223.4 805.5 232.8 802.4C242.2 799.3 252.9 793.7 261 790.3C269 786.9 274.4 784.5 281.1 782.3C287.8 780 293.8 778.6 301.2 776.6C308.6 774.6 316 774.6 325.4 770.2C334.7 765.8 348.2 754.1 357.5 750.1C366.9 746 377.7 746.7 381.7 746" transform="translate(372.3 0.5)" fill="none" stroke="#222" stroke-width="1" opacity="0.6"/>
<ellipse cx="703.7" cy="725.6" rx="2.6" ry="1.8" fill="#1c1c1c" opacity="0.75" filter="url(#mb1)"/>
<ellipse cx="681.6" cy="691.4" rx="2.6" ry="1.8" fill="#1c1c1c" opacity="0.75" filter="url(#mb1)"/>
<ellipse cx="762" cy="668.5" rx="2.6" ry="1.8" fill="#1c1c1c" opacity="0.75" filter="url(#mb1)"/>
<ellipse cx="745.9" cy="753.8" rx="2.6" ry="1.8" fill="#1c1c1c" opacity="0.75" filter="url(#mb1)"/>
<ellipse cx="645.3" cy="747.7" rx="2.6" ry="1.8" fill="#1c1c1c" opacity="0.75" filter="url(#mb1)"/>
<ellipse cx="581" cy="753.8" rx="2.6" ry="1.8" fill="#1c1c1c" opacity="0.75" filter="url(#mb1)"/>
<ellipse cx="737.9" cy="729.6" rx="2.6" ry="1.8" fill="#1c1c1c" opacity="0.75" filter="url(#mb1)"/>
<ellipse cx="667.5" cy="757.8" rx="2.6" ry="1.8" fill="#1c1c1c" opacity="0.75" filter="url(#mb1)"/>
<ellipse cx="713.7" cy="701.5" rx="2.6" ry="1.8" fill="#1c1c1c" opacity="0.75" filter="url(#mb1)"/>
<ellipse cx="800.3" cy="627" rx="2.6" ry="1.8" fill="#1c1c1c" opacity="0.75" filter="url(#mb1)"/>
<ellipse cx="605.1" cy="729.6" rx="2.6" ry="1.8" fill="#1c1c1c" opacity="0.75" filter="url(#mb1)"/>
<ellipse cx="754" cy="709.5" rx="2.6" ry="1.8" fill="#1c1c1c" opacity="0.75" filter="url(#mb1)"/>
<ellipse cx="689.6" cy="729.6" rx="2.6" ry="1.8" fill="#1c1c1c" opacity="0.75" filter="url(#mb1)"/>
<g filter="url(#mmo)">
<polygon points="520.3,824.5 542.3,829.5 570.3,835.5 597.3,840.5 622.3,845.5 638.3,847.5 648.3,840.5 664.3,842.5 682.3,845.5 702.3,847.5 717.3,848.5 727.3,843.5 734.3,835.5 740.3,827.5 750.3,821.5 760.3,817.5 769.3,813.5 774.3,806.5 842.3,806.5 842.3,905.5 512.3,905.5" fill="#f7f7f7" filter="url(#mb2)"/>
<polygon points="818.3,742.5 814.3,755.5 808.3,768.5 796.3,777.5 784.3,782.5 774.3,790.5 768.3,800.5 774.3,812.5 842.3,812.5 842.3,742.5" fill="#f7f7f7" filter="url(#mb2)"/>
</g>
<g filter="url(#vein2)" opacity="0.35"><polygon points="520.3,830.5 542.3,835.5 570.3,841.5 597.3,846.5 622.3,851.5 638.3,853.5 648.3,846.5 664.3,848.5 682.3,851.5 702.3,853.5 717.3,854.5 727.3,849.5 734.3,841.5 740.3,833.5 750.3,827.5 760.3,823.5 769.3,819.5 774.3,812.5 842.3,812.5 842.3,911.5 512.3,911.5" fill="#8a8a8a" filter="url(#mb4)"/></g>
</g></g></g>
<rect x="144.4" y="573.4" width="329" height="328.9" fill="none" stroke="#262626" stroke-width="1.7"/>
<path d="M154.8 573.4v-3.5M312.5 573.4v-3.5M468.9 573.4v-3.5M144.4 902.3v3.5M305.2 902.3v3.5M466 902.3v3.5M144.4 651.2h-4.5M144.4 843.3h-4.5M473.4 657h4.5M473.4 849.1h4.5" stroke="#262626" stroke-width="1.2" fill="none"/>
<g font-family='"Liberation Sans", sans-serif' font-size="9.3" fill="#222" text-anchor="middle">
<text x="154.8" y="567.3" textLength="42" lengthAdjust="spacingAndGlyphs">108°0'0"E</text>
<text x="312.5" y="567.3" textLength="42" lengthAdjust="spacingAndGlyphs">109°0'0"E</text>
<text x="468.9" y="567.3" textLength="42" lengthAdjust="spacingAndGlyphs">110°0'0"E</text>
<text x="144.4" y="916.9" textLength="42" lengthAdjust="spacingAndGlyphs">108°0'0"E</text>
<text x="305.2" y="916.9" textLength="42" lengthAdjust="spacingAndGlyphs">109°0'0"E</text>
<text x="466" y="916.9" textLength="42" lengthAdjust="spacingAndGlyphs">110°0'0"E</text>
<text transform="translate(136.6 651.6) rotate(-90)" textLength="38.5" lengthAdjust="spacingAndGlyphs">35°0'0"N</text>
<text transform="translate(136.6 843.7) rotate(-90)" textLength="38.5" lengthAdjust="spacingAndGlyphs">34°0'0"N</text>
<text transform="translate(487.9 657.4) rotate(-90)" textLength="38.5" lengthAdjust="spacingAndGlyphs">35°0'0"N</text>
<text transform="translate(487.9 849.5) rotate(-90)" textLength="38.5" lengthAdjust="spacingAndGlyphs">34°0'0"N</text>
</g>
<rect x="513.8" y="572.5" width="331" height="330.9" fill="none" stroke="#262626" stroke-width="1.7"/>
<path d="M526.7 572.5v-3.5M682.2 572.5v-3.5M838.4 572.5v-3.5M516.4 903.4v3.5M675.9 903.4v3.5M835.2 903.4v3.5M513.8 653.5h-4.5M513.8 844.3h-4.5M844.8 660.4h4.5M844.8 851.1h4.5" stroke="#262626" stroke-width="1.2" fill="none"/>
<g font-family='"Liberation Sans", sans-serif' font-size="9.3" fill="#222" text-anchor="middle">
<text x="526.7" y="566.6" textLength="42" lengthAdjust="spacingAndGlyphs">108°0'0"E</text>
<text x="682.2" y="566.6" textLength="42" lengthAdjust="spacingAndGlyphs">109°0'0"E</text>
<text x="838.4" y="566.6" textLength="42" lengthAdjust="spacingAndGlyphs">110°0'0"E</text>
<text x="518.8" y="917.9" textLength="36.5" lengthAdjust="spacingAndGlyphs">08°0'0"E</text>
<text x="675.9" y="917.9" textLength="42" lengthAdjust="spacingAndGlyphs">109°0'0"E</text>
<text x="835.2" y="917.9" textLength="42" lengthAdjust="spacingAndGlyphs">110°0'0"E</text>
<text transform="translate(507.4 653.9) rotate(-90)" textLength="38.5" lengthAdjust="spacingAndGlyphs">35°0'0"N</text>
<text transform="translate(507.4 844.7) rotate(-90)" textLength="38.5" lengthAdjust="spacingAndGlyphs">34°0'0"N</text>
<text transform="translate(858.8 660.8) rotate(-90)" textLength="38.5" lengthAdjust="spacingAndGlyphs">35°0'0"N</text>
<text transform="translate(858.8 851.5) rotate(-90)" textLength="38.5" lengthAdjust="spacingAndGlyphs">34°0'0"N</text>
</g>
<rect x="367" y="589.1" width="69.7" height="4.9" fill="#0a0a0a"/>
<rect x="371.3" y="590.1" width="3.9" height="2.9" fill="#fff"/>
<rect x="380.5" y="590.1" width="3.9" height="2.9" fill="#fff"/>
<rect x="402.5" y="590.1" width="16.2" height="2.9" fill="#fff"/>
<g font-family='"Liberation Sans", sans-serif' font-size="8.6" fill="#111">
<text x="364.5" y="584.4" textLength="77.1" lengthAdjust="spacingAndGlyphs" xml:space="preserve">0 510  20  30  40</text>
<text x="438.7" y="594.1" textLength="15.4" lengthAdjust="spacingAndGlyphs">KM</text>
<text x="464.6" y="582" font-size="7.5" text-anchor="middle">N</text>
</g>
<path d="M465.1 585.2L470.3 603.7L464.8 598.2L458.6 603.7Z" fill="#fff" stroke="#111" stroke-width="1.1" stroke-linejoin="miter"/>
<path d="M465.1 585.2L464.8 598.2L458.6 603.7Z" fill="#111"/>
<rect x="736.4" y="592" width="68.4" height="5.9" fill="#0a0a0a"/>
<rect x="740.6" y="593" width="3.8" height="3.9" fill="#fff"/>
<rect x="749.6" y="593" width="3.8" height="3.9" fill="#fff"/>
<rect x="771.3" y="593" width="15.9" height="3.9" fill="#fff"/>
<g font-family='"Liberation Sans", sans-serif' font-size="8.6" fill="#111">
<text x="733.9" y="588.3" textLength="76.3" lengthAdjust="spacingAndGlyphs" xml:space="preserve">0 510  20  30  40</text>
<text x="806.7" y="597.6" textLength="15.4" lengthAdjust="spacingAndGlyphs">KM</text>
<text x="831.1" y="580" font-size="7.5" text-anchor="middle">N</text>
</g>
<path d="M831 583.2L836 600.8L830.6 595.3L824.7 600.8Z" fill="#fff" stroke="#111" stroke-width="1.1" stroke-linejoin="miter"/>
<path d="M831 583.2L830.6 595.3L824.7 600.8Z" fill="#111"/>
<circle cx="273.7" cy="593.4" r="5.3" fill="#e0405c" stroke="#8cc540" stroke-width="4.9"/>
<rect x="226.4" y="735.5" width="10.2" height="10.8" rx="2.2" fill="#050505"/><rect x="230.2" y="738.8" width="2.6" height="4.2" fill="#fff"/>
<path d="M385.6 727.4L391.8 740L379.5 740Z" fill="#c8a0b0" stroke="#6c3aa8" stroke-width="3.4" stroke-linejoin="round"/>
<polygon points="392.5,843.4 394.3,843.4 395.9,854.1 404.6,855.7 404.6,857.5 395.9,859.1 394.3,869.8 392.5,869.8 390.9,859.1 382.2,857.5 382.2,855.7 390.9,854.1" fill="#1cb2ee" stroke="#1cb2ee" stroke-width="0.6" stroke-linejoin="round"/>
<circle cx="645.7" cy="593.4" r="4.4" fill="#f4f8ea" stroke="#8cc540" stroke-width="5.6"/>
<rect x="599.4" y="736.5" width="9.4" height="10.8" rx="2.2" fill="#050505"/><rect x="603.2" y="740.6" width="1.8" height="2.6" fill="#fff"/>
<path d="M753 728.2L758.5 740.2L747.5 740.2Z" fill="#8a8a8a" stroke="#6c3aa8" stroke-width="3.4" stroke-linejoin="round"/>
<polygon points="764.2,842.4 766,842.4 767.6,853.5 776.3,855.1 776.3,856.9 767.6,858.5 766,869.6 764.2,869.6 762.6,858.5 753.9,856.9 753.9,855.1 762.6,853.5" fill="#1cb2ee" stroke="#1cb2ee" stroke-width="0.6" stroke-linejoin="round"/></g>
<g id="texts"><g fill="#0a0a0a" stroke="#0a0a0a" stroke-width="0.35">
<text x="222" y="47.2" font-family='"Liberation Serif", serif' font-size="21.8" textLength="301" lengthAdjust="spacingAndGlyphs" xml:space="preserve">Observed  NDVI at MODIS scale</text>
<text x="706" y="48.2" font-family='"Liberation Serif", serif' font-size="21.8" textLength="301.5" lengthAdjust="spacingAndGlyphs" xml:space="preserve">Observed  NDVI at MODIS scale</text>
<text x="182.5" y="982.8" font-family='"Liberation Serif", serif' font-size="21.8" textLength="302.5" lengthAdjust="spacingAndGlyphs" xml:space="preserve">Observed  NDVI at MODIS scale</text>
<text x="689.5" y="985" font-family='"Liberation Serif", serif' font-size="21.8" textLength="301.5" lengthAdjust="spacingAndGlyphs" xml:space="preserve">Observed  NDVI at MODIS scale</text>
<text x="242" y="502.8" font-family='"Liberation Serif", serif' font-size="21.8" textLength="256" lengthAdjust="spacingAndGlyphs" xml:space="preserve">Predicted NDVI at TM scale</text>
<text x="724" y="504.5" font-family='"Liberation Serif", serif' font-size="21.8" textLength="254.6" lengthAdjust="spacingAndGlyphs" xml:space="preserve">Predicted NDVI at TM scale</text>
<text x="230" y="1272.5" font-family='"Liberation Serif", serif' font-size="21.8" textLength="256" lengthAdjust="spacingAndGlyphs" xml:space="preserve">Predicted NDVI at TM scale</text>
<text x="705.5" y="1272.5" font-family='"Liberation Serif", serif' font-size="21.8" textLength="255.5" lengthAdjust="spacingAndGlyphs" xml:space="preserve">Predicted NDVI at TM scale</text>
<text x="50.7" y="114.7" font-family='"Liberation Serif", serif' font-size="26.5" textLength="82.2" lengthAdjust="spacingAndGlyphs" xml:space="preserve">MODIS</text>
<text x="532" y="107.1" font-family='"Liberation Serif", serif' font-size="26.5" textLength="81.6" lengthAdjust="spacingAndGlyphs" xml:space="preserve">MODIS</text>
<text x="51.2" y="1053.9" font-family='"Liberation Serif", serif' font-size="26.5" textLength="81.6" lengthAdjust="spacingAndGlyphs" xml:space="preserve">MODIS</text>
<text x="537.4" y="1051" font-family='"Liberation Serif", serif' font-size="26.5" textLength="82.5" lengthAdjust="spacingAndGlyphs" xml:space="preserve">MODIS</text>
<text x="75.2" y="332.4" font-family='"Liberation Serif", serif' font-size="26" textLength="38.6" lengthAdjust="spacingAndGlyphs" xml:space="preserve">TM</text>
<text x="557.8" y="327.4" font-family='"Liberation Serif", serif' font-size="26" textLength="39.3" lengthAdjust="spacingAndGlyphs" xml:space="preserve">TM</text>
<text x="75.2" y="1340.3" font-family='"Liberation Serif", serif' font-size="26" textLength="38.6" lengthAdjust="spacingAndGlyphs" xml:space="preserve">TM</text>
<text x="562.2" y="1340.3" font-family='"Liberation Serif", serif' font-size="26" textLength="39.1" lengthAdjust="spacingAndGlyphs" xml:space="preserve">TM</text>
<text x="166.4" y="944.4" font-family='"Liberation Serif", serif' font-size="22.6" textLength="266.8" lengthAdjust="spacingAndGlyphs" xml:space="preserve">Landsat TM on June 29, 2009</text>
<text x="533.1" y="945.6" font-family='"Liberation Serif", serif' font-size="22.6" textLength="292.2" lengthAdjust="spacingAndGlyphs" xml:space="preserve">MODIS NDVI on June 29, 2009</text>
</g>
<circle cx="31.1" cy="50.8" r="5.1" fill="#e6f2d0" stroke="#8cc540" stroke-width="6.2"/>
<polygon points="545.4,22.4 547.2,22.4 548.8,33.7 557,35.3 557,37.1 548.8,38.7 547.2,50 545.4,50 543.8,38.7 535.6,37.1 535.6,35.3 543.8,33.7" fill="#1cb2ee" stroke="#1cb2ee" stroke-width="0.6" stroke-linejoin="round"/>
<rect x="22.5" y="963.2" width="12.2" height="12.2" rx="2.2" fill="#050505"/><rect x="27.4" y="967.5" width="2.4" height="3.6" fill="#fff"/>
<path d="M518.4 966.6L524.1 978.5L512.6 978.5Z" fill="#f4eefa" stroke="#6c3aa8" stroke-width="5" stroke-linejoin="round"/></g>
<g id="arrows"><path d="M114 1472L230.6 1421.7" stroke="#0a0a0a" stroke-width="2.2" stroke-linecap="round"/>
<path d="M242.5 1416.5L232.6 1426.4L228.5 1416.9Z" fill="#0a0a0a"/>
<path d="M114 1444L289 1458.7" stroke="#f01818" stroke-width="2.2" stroke-linecap="round"/>
<path d="M302 1459.8L288.6 1463.9L289.5 1453.5Z" fill="#f01818"/>
<path d="M578 1443.6L743.7 1360.3" stroke="#0a0a0a" stroke-width="2.2" stroke-linecap="round"/>
<path d="M755.3 1354.5L746 1365L741.3 1355.7Z" fill="#0a0a0a"/>
<path d="M578 1460.2L709.8 1460.2" stroke="#f01818" stroke-width="2.2" stroke-linecap="round"/>
<path d="M722.8 1460.2L709.8 1465.4L709.8 1455Z" fill="#f01818"/></g>
</svg></body></html>
